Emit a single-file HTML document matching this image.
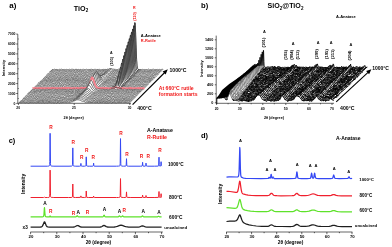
<!DOCTYPE html>
<html><head><meta charset="utf-8"><title>XRD figure</title>
<style>html,body{margin:0;padding:0;background:#fff;width:392px;height:247px;overflow:hidden}svg{display:block;will-change:transform}</style>
</head><body>
<svg xmlns="http://www.w3.org/2000/svg" width="392" height="247" viewBox="0 0 392 247">
<style>text{font-family:"Liberation Sans",sans-serif}.p{stroke:#f47e8a;stroke-width:19}</style>
<rect width="392" height="247" fill="#fff"/>
<defs><filter id="bl" x="-5%" y="-5%" width="110%" height="110%"><feGaussianBlur stdDeviation="0.3"/></filter><linearGradient id="wg" x1="0" y1="0" x2="0" y2="1"><stop offset="0" stop-color="#808080"/><stop offset=".7" stop-color="#9c9c9c"/><stop offset=".93" stop-color="#fff"/></linearGradient></defs>
<g filter="url(#bl)"><g transform="scale(.1)" fill="#fff" stroke="#222" stroke-width="6.20"><path d="M520 698l0-2 11 0 7 0 4-1 5-3 2 0 4 3 7 1 9-2 7 2 4 0 7 2 6-4 9-1 7 4 4-4 3-1 9 3 11 0 6 2 5-3 2 0 5 2 6 0 5-2 11 2 11 0 7-3 4 1 7 2 9-3 6 2 5-2 2 0 4 1 7 1 5 3 6-4 20 0 7 2 7-2 11 3 15-3 7 4 5 0 4-4 2 0 5 1 4-3 2 0 5 5 4-1 7 0 11-3 4 0 7 3 5-2 2 0 4 3 7-2 9-1 7 2 4-2 2-1 5 2 15 1 7-2 11 0 5-1 2 0 4 3 16-2 6 1 7-1 5 0 4 3 2 0 5-1 4 1 7-2 7 0 4-1 11 1 7-2 11 3 9-2 6-3 5 2 4 0 14-6 11-2 15 6 7 0 7 3 15-1 5 5 2 0 5-2 6 0 9-2 7-3 22 4 5-1 2 1 4 3 5-4 2 0 4 1 5-1 6 2 5 1 18-3 6 1 9-1 7 3 4-2 7 2 11-3 5 1 2-1 7-13 2-9 4-41 5-83 9-250 2-46 2-25 2 0 3 26 13 344 4 57 3 17 4 18 4 5 12 3 11-2 11 1 7-2 4 0 7 2 6-1 5 1 4-2 2 0 5 2 11-1 11 2 5-4 2-1 4 1 5 4 2 0 4-2 5 1 7-1 4 1 2 0 5-2 4 0 7-2 7 2 4 2 7-2 4 2 7-1 9 2 2 0 4-3 5 3 2 0 4-2 7-1 11 3 11-3 9-1 3 1 4 4"/><path d="M1295 696l4 1 11-3 5 1 2-1 7-13 4-25 4-61 3-47 9-250 2-46 2-25 2 0 3 26 11 297 2 47 4 57 5 28 2 7 2 3 5 3 9 2 11-2" fill="url(#wg)"/><path d="M509 709l0-2 11-3 5 0 6 3 5-1 6-3 5 4 2 0 5-3 11 2 6-2 16 4 7-2 8-2 3 1 4 5 5-5 2-1 4 1 7-1 9 2 11-1 7 2 11-1 11 2 7 0 4-3 18 2 4-2 11 4 5-4 2 0 5 3 4-4 2-1 16 6 11-5 7 0 11 4 4-1 11-2 7 1 5 0 6 2 9-3 2 0 5 3 11-5 11 5 4-3 3 0 4 4 7-3 4 1 7-3 11 1 5-2 15 4 2-1 5-4 4 4 2 0 5-1 16 3 17-3 11 3 23-3 4 1 7-1 4 1 7-3 7 3 15-2 7 3 9-1 6 2 7-6 9-2 7-7 4 0 7-2 9 4 6 6 3 1 4-2 11 7 16-3 11 2 7-1 6 2 9-2 7 3 4-2 3 0 4 3 7-2 4 1 11-3 5 1 6-1 12 1 6-1 5 1 11-2 4 2 3 0 4-2 4 3 3 0 4-1 7 2 13-6 2-2 3-7 2-10 4-37 5-78 11-286 2-24 2 0 3 24 2 44 6 187 5 98 4 58 3 16 4 15 4 4 14 4 4 0 11 0 12-4 6 3 16 2 6-3 16 1 7-1 4 2 5-2 6 1 5-2 6 2 7-2 11 1 5-2 11 3 4-2 7 2 16-1 6-2 5 4 2 0 9-3 6 1 12-2 4 3 2 0 9-2 11 3 7-1"/><path d="M1284 707l4-1 7 2 13-6 2-2 5-17 2-15 4-54 3-46 11-286 2-24 2 0 3 24 2 44 9 241 4 78 2 24 5 25 2 6 2 3 14 5 11 0" fill="url(#wg)"/><path d="M498 720l0-4 11-1 11 4 7-4 9 3 7-2 4 0 13 4 5-2 11 0 7-1 4 2 11-5 5 4 2 0 4-2 7 2 4-2 7 1 5-2 4 2 2 1 5-2 6 2 16-3 7 4 4 0 5-3 2-1 4 1 5-1 2 0 4 4 16-4 7 2 4 1 7-2 11 2 4-2 3 1 4 3 7-2 4-3 7 3 15-3 12 3 6-1 5-1 11 2 4-2 11-2 3 1 4 4 11-1 5-1 6 1 5-2 2 1 4 4 5-4 2-1 5 2 11-2 11 3 6-4 9 2 7 0 7 2 4 0 11-3 23 3 4-3 2-1 9 3 7-3 15 3 7-3 7 1 4-2 11 3 11 0 12-5 11-5 4-1 7-2 11 3 7 5 9 3 11 2 6-3 12 5 11-3 11 1 6-3 9 3 7-2 5 3 2 1 4-2 7 1 9-3 2 0 4 3 5-3 2 0 5 4 4-3 2 0 5 3 11-3 7 1 15 0 11 1 7-2 4-5 3-5 2-8 4-39 5-77 11-267 2-24 2 0 3 23 2 42 11 271 4 56 3 15 4 13 2 3 5 3 4 0 7-2 9 4 6 0 7-3 16 3 6-2 16 1 7-2 11 0 9 3 6-3 7-1 27 2 6-1 5 1 4-2 3-1 8 3 7 0 7 2 9-1 6-5 5 4 2 1 4-2 12 1 4-1 2 1 5 3 6-5 5-1 4 2 7 1"/><path d="M1273 717l4 0 11 1 5-1 4-3 5-8 4-23 4-57 3-44 11-267 2-24 2 0 3 23 2 42 9 228 2 43 4 56 5 24 4 7 5 3 4 0 7-2 9 4" fill="url(#wg)"/><path d="M487 731l7-3 9 1 6-2 7 1 4-1 7 0 5-1 4 2 7 3 4-4 2 0 5 4 6-4 12 3 8-3 7 3 7-2 9 1 6 0 7-3 11 2 20 0 7 3 4-3 3-1 9 4 2 0 4-4 7 2 4-1 11 1 7-1 16 1 4 0 7 1 11-4 11 1 5 3 2-1 4-2 7-1 4-1 5 5 2 1 5-3 6 0 5-2 6 3 5 0 4-3 2-1 5 2 4 3 3 0 8-4 3 1 4 2 7-2 11 3 11-4 5 0 4 2 2 0 5-2 4 3 11-1 7 2 7-2 11 3 4-2 22 0 5 2 2 0 5-4 6 1 20 0 11 2 12-3 6 0 5-1 2 0 4 3 5-1 6-1 12-7 4 1 2-1 5-4 6-2 7 0 5 1 4 4 4-1 3 1 4 3 11 4 5 4 2 0 4-4 7 2 5 3 6-4 9-1 7 3 6-2 16 1 7-1 9 0 11 3 2-1 4-3 7 1 5 2 11-2 4 3 2 0 9-5 3 0 4 3 4 1 3-1 4-3 7 3 11-1 2-1 5-8 2-7 4-36 5-72 11-260 2-21 2 0 3 21 2 39 6 172 5 89 2 30 5 34 2 10 2 7 2 3 5 3 15-2 7-2 9 0 22 4 2-1 5-3 6 1 9 2 7-2 11 1 5 1 6-1 7 1 4-2 16 1 7-2 4 1 7-1 15 1 12 3 6-1 7-2 4 0 11 1 5-2 13 5 5-1 11-3 11 1"/><path d="M1262 728l4-3 7 3 9 0 4-2 5-8 2-7 2-14 4-53 3-41 11-260 2-21 2 0 3 21 2 39 9 221 2 40 4 50 5 24 2 7 2 3 5 3 15-2 5-1" fill="url(#wg)"/><path d="M476 742l0-4 11 0 11 3 7-3 4 1 7 0 5 2 6-2 5-3 4 3 2 1 11-2 5 1 7 1 4 2 4-3 3-1 4 2 7-2 4 1 5 1 6-2 12 2 6-3 9 2 7-1 18 1 15-1 11 2 11-2 7 2 11-2 20 2 7-2 11 4 11-3 16 2 7-2 6 1 11-1 5 1 4-1 7 1 11-1 4-2 7 0 11 3 11-2 5 0 7 3 4-1 7 0 6-2 5 0 4 1 2 0 5-3 4 3 3 0 4-4 7 4 4 0 5-2 2 0 4 3 5 0 6-3 7 2 5-1 4 2 2 0 5-4 11 2 7 0 15 3 11-4 16 0 6 1 5 0 18-13 15-2 3 1 11 9 15 6 7-1 11-3 5 1 4 3 2 0 5-2 6 2 5-1 6 2 5-1 4 2 3-1 4-4 5 3 2 1 4-2 5 1 6 0 7 1 11-2 5 0 4 3 2 0 5-3 4 2 11-2 7 2 11-1 20-3 2-2 5-16 4-32 5-67 11-245 2-21 2 0 3 21 2 39 11 246 2 28 5 33 2 7 4 8 2 2 5 2 7 0 6-1 7 1 9 0 7-2 6 1 5 3 17-3 5 0 4 1 3 0 4-3 5 3 2 0 4-2 11 0 5 1 6 0 5 3 7 1 11-4 6 0 5 1 4-1 7 0 4-1 3 1 4 3 7-1 9 1 6-4 7 3 9 0 7-2 4 1 7-1 4 0 11 4 7-2"/><path d="M1251 740l17-3 7-1 2-2 5-16 2-13 4-46 3-40 11-245 2-21 2 0 3 21 2 39 9 207 2 39 4 48 5 20 6 10 7 2 11-1 5 1" fill="url(#wg)"/><path d="M465 753l0-4 4 1 7 0 5 1 2 0 4-3 7 3 4-1 5 1 7-4 4 1 7 4 11-2 15 2 7-2 4 1 3 0 9-4 2 0 4 4 7-3 9 3 11 0 18-2 11 3 11-4 18 5 9-3 6 2 5-3 2 0 5 2 6 0 9-1 7-1 11 4 7-3 9-2 2 1 4 3 7-4 16 3 11 1 4-3 7 1 11-3 7 3 4 0 4-2 3 0 4 4 7-1 15-1 5 1 7-3 6 4 5-1 6 2 5-1 6-3 9 1 7-1 5 0 6 2 11-1 5-2 2 0 4 3 16-3 7 1 4 0 7 3 4-1 7 2 11-7 7 3 15 0 7 1 20-8 9-7 4-1 7 0 16 5 15 9 11 4 5-1 7-4 15 3 22-1 7 2 7-1 4 1 5-2 2 0 4 3 5-3 2 0 9 2 22-1 11 2 3 0 4-3 7 1 4-2 11 5 5-4 6-3 3-5 4-22 2-21 5-64 9-190 2-37 2-20 2 0 3 20 11 229 4 65 5 33 2 7 2 4 4 3 7 1 5 2 17 1 5-2 7 0 6-1 16 3 4-3 2-1 5 2 11 2 5 0 6-3 7 2 4-2 5 0 11 3 11-4 7 3 4 1 7-3 11 2 4-2 3 0 4 2 7-1 9 1 6-1 11 3 12-5 4 1 7-2 4 1 7 0 11 3"/><path d="M1240 750l4-2 11 5 5-4 6-3 5-14 2-13 2-21 5-64 9-190 2-37 2-20 2 0 3 20 11 229 4 65 2 20 3 13 2 7 4 6 16 4 9 1" fill="url(#wg)"/><path d="M454 764l0-1 4 1 3 0 4-3 7 1 15-2 7 3 9-2 7 0 4-1 2 0 9 4 2-1 5-4 7 4 8-2 7 2 5-4 2-1 4 3 5-1 6 2 5-3 2-1 9 4 2 0 5-3 4 4 2 0 11-2 9 1 3 0 4-3 5 0 6 4 5-2 11 1 6-2 7 1 11 0 5 2 4-3 2 0 5 2 4-2 3 0 4 2 4 0 7-3 11 3 7 0 11-3 16 4 15-2 7 1 4-2 3 0 4 3 11-3 11 2 5-2 2 0 4 3 5-3 7-2 4 0 7 3 4-2 2 0 5 2 4-1 7 1 11-1 5 3 2 0 9-4 2 1 4 5 5-4 6-1 12 1 6-2 11 5 16-3 11 0 5-2 2 1 4 5 5-5 2-1 15-1 5-1 18-10 4-5 2-1 12 2 8 8 7 2 11 7 7 0 4 2 5-3 2 0 5 1 4-2 2 1 5 3 6-2 5 2 22-2 7 1 4-2 7 1 4 2 7 0 4 0 5-3 2 0 5 3 6-2 5 0 6 2 12-1 11 2 11-2 4 0 5-2 6 0 5-14 2-12 4-43 12-219 2-34 2-18 2 0 3 17 2 33 11 221 4 44 3 12 4 12 4 2 12-1 11 3 29 0 4 0 11 0 7 1 7-2 9-1 13 3 20-1 7 2 4-3 2 0 5 2 11-1 11-4 7 4 20-1 6-3 5 4 2 1 4-2 7 1 5-1 6 1 5-2 4 2 2 0 5-4 11 6"/><path d="M1229 763l11-2 4 0 5-2 6 0 5-14 2-12 4-43 3-35 11-218 2-18 2 0 3 17 2 33 9 186 2 35 4 44 5 20 2 4 2 1 5 1 9-1 11 3" fill="url(#wg)"/><path d="M443 775l0-1 11-3 7 2 9 0 6-3 5 5 2 0 5-5 11 2 6 0 5 2 11-6 4 4 3 1 4-3 7 2 15 1 11 1 5-3 2-1 5 2 15 0 7 3 15-4 7 3 5-1 6 1 7-3 15 2 7-1 9 1 7-1 4 1 7-2 11 2 7-2 22 4 16-5 6 3 27-3 4 1 7 2 4-1 3 0 4 4 7-4 9-1 6 2 12-3 6 3 11-1 16-1 4 2 3 0 4-2 7-1 15 2 7 0 11 2 9-2 11 1 36-3 4 1 7 0 9 3 2-1 9-7 7-3 11-9 4-6 2-2 3 0 6 1 5 2 9 8 4 2 7 7 4 1 11 5 7-1 9 2 7-2 4 2 2-1 5-3 6 4 9-1 7 1 7-1 15 4 5-2 6-4 16 3 11-1 7 2 11-1 4-2 3 0 4 3 5-3 2 0 4 2 5-4 6-1 5-11 2-12 2-17 5-57 11-201 2-16 2 0 3 16 2 30 11 205 4 41 3 12 4 12 16 2 6 2 5-3 2-1 9 2 7-2 4 3 2 0 5-2 4 2 2 0 5-3 4 2 2 0 5-2 7 3 9-2 6 3 7-2 4 1 5-2 2 0 4 2 12 0 4-2 2 0 5 3 6-2 16 1 11-1 5 2 2 0 4-2 7 2 9-5 2 1 4 4 18-3 11 4 5 0 7-3 4 0"/><path d="M1218 771l4 3 5-3 2 0 4 2 5-4 6-1 5-11 2-12 2-17 5-57 11-201 2-16 2 0 3 16 2 30 11 205 4 41 3 12 4 12 16 2 6 2 5-3" fill="url(#wg)"/><path d="M432 786l0-1 11-3 7 3 4-1 11-4 5 4 2 0 5-2 4 2 11-1 7 2 4-3 7-1 4 2 7 0 4 2 3-1 4-3 11 4 5-2 2 0 4 2 5 0 7 1 4-4 7-2 6 4 16 0 11-3 5 3 2 0 4-1 5 2 2 0 4-4 11 3 5-2 2-1 5 2 6-2 9 0 7 3 11-1 7 0 4-2 5 3 2 0 4-2 5-1 6 5 23-3 17 1 16-2 7 2 15-1 5 2 2 0 4-3 16 2 11 0 7 1 4-3 7-4 4 6 3 1 4 0 7-3 4 0 7 4 4 0 5-3 2 0 4 3 5-4 2-1 5 3 6-1 20 0 7-2 7 2 20 0 6-2 7-4 9-2 22-21 2-1 7-1 5 2 11 14 4 5 5 0 6 5 16 4 11-1 7 2 11-2 4 2 7 0 4 1 7-2 7 1 4-2 5 3 2-1 4-2 7 3 9 0 7-2 4 2 2 0 5-4 11 2 4 3 3 0 4-2 11 3 11-6 5 3 2 0 4-5 5-11 4-24 2-21 12-190 2-30 2-16 2 1 3 17 13 217 4 37 3 11 4 13 2 1 7 1 7 0 6-2 5 2 2-1 4-4 5 4 2 1 5-2 6 0 5 0 11 2 11-2 7 1 9-1 6 3 5 0 6-4 11 5 5-5 2 0 5 3 4 1 7-3 6 3 5 0 4-3 3 0 4 2 4-4 3 0 4 3 5-3 2 0 4 3 11 1 11 0 12-2 4 3 7 0 4 1 2-1 5-4 4 2 7 0"/><path d="M1207 785l4 1 11-6 5 3 2 0 4-5 3-4 4-16 4-36 3-30 9-160 2-30 2-16 2 1 3 17 11 187 2 30 4 37 3 11 4 13 2 1 7 1 7 0 6-2 5 2" fill="url(#wg)"/><path d="M421 797l0-2 4 2 3 0 4-3 5-1 6 2 7-3 4 2 5-1 7 4 11-5 4-1 11 3 11 1 7-2 7 2 4-1 7 3 4-1 5-3 2-1 4 2 7 1 5 2 11-6 6 6 5 1 6-3 23 1 4 0 7-2 4 0 5-1 6 3 5-2 7 1 11-2 15 3 11-3 7 2 7 0 4 2 5-1 11-3 11 3 7-1 6 1 9-4 2 0 5 2 4 0 7-1 7 2 15-1 5 2 2 0 4-3 5 0 7 5 4 0 7-2 4-3 2-1 5 2 15-1 7 2 18-2 15 2 5-2 7 0 4 0 2 0 5 5 4-5 2 0 5 4 4-3 3 0 4 1 4-1 7 0 16-2 11 2 2-1 9-8 7-5 6-10 16-16 4 1 3 2 4 7 11 13 7 10 4 3 7-1 11 5 5 0 6-1 5 3 11-2 4 3 2-1 5-3 11-1 7 4 9-1 6 1 5-4 2 0 4 4 23-4 4 3 2 0 5-2 11 3 4-2 7 2 5-3 2-1 4 3 9-4 5-5 2-4 2-9 2-15 5-48 11-173 2-16 2 0 3 15 2 27 11 175 4 33 3 10 4 12 7-1 4 3 7 0 4 1 7-4 4 1 7 0 9 1 7-2 6 1 16 0 11 2 5 1 2 0 4-5 5 4 6 2 5-1 6-5 7 2 5 2 6-1 5 0 4 3 2 0 5-2 11-2 4 2 7 3 5-1 6-3 18 0 9 2 7-2 15-1 11 4 7 0"/><path d="M1196 794l4 2 5-3 2-1 4 3 9-4 5-5 2-4 2-9 4-35 3-28 11-173 2-16 2 0 3 15 2 27 9 147 2 28 4 33 3 10 4 12 7-1 4 3 7 0 4 1 5-3" fill="url(#wg)"/><path d="M410 808l0-3 4 2 3 1 4-2 5 2 2 0 4-3 7 2 4-1 7-3 27 3 6-1 5-2 7 4 15-3 5 0 6 3 7-1 9 1 7-2 6 1 5-2 11 2 6-1 16 1 7-2 11 4 15-6 5 4 2 1 9-1 7 1 6-2 9 0 7-3 4 3 3 0 9-1 6 2 5 0 6-3 16 4 7-3 6 0 5-2 26 4 23-2 11 2 11-3 7 3 4-1 7-1 22 1 5-2 6 0 7 4 4 2 5-4 2 0 16 2 6-3 11 1 12-4 11 2 4 2 5-2 6 1 7-2 9-1 11-6 22-31 2-2 5 1 4-2 5 4 9 16 4 3 9 14 2 2 5 2 6-1 5 2 7-1 4 4 2 0 9-3 7 3 6-2 5 1 11-1 5-2 2 1 4 4 7-3 4-1 5 3 2 0 11-4 5 2 4 4 2 1 5-4 4 2 2 0 5-2 7 1 8 0 7-1 11 1 5-1 6-4 3-2 2-5 4-23 5-43 11-157 2-13 2-1 3 13 2 23 6 105 5 56 4 33 3 8 2 3 6 5 7 4 7-1 4 1 5-3 2-1 4 2 5 3 2 0 5-3 4-1 7 1 22 0 4 1 7-1 22 2 11-3 5 4 2 0 11-5 5 1 4 2 2 0 5-3 7 4 4-1 4-3 3 0 4 3 7 0 4 2 11-1 5-1 6 2 5-3 2-1 5 2 11 0 11-3 4 2 3 0 4-2"/><path d="M1185 806l4-1 11 1 9-3 5-4 2-5 2-9 7-57 11-157 2-13 2-1 3 13 2 23 9 136 2 25 4 33 3 8 2 3 11 8 2 1 7-1 4 1 5-3" fill="url(#wg)"/><path d="M399 819l0-2 11-1 7 1 4-2 7 1 4 0 5-3 2 0 5 4 4-2 7 3 6-3 11 1 12-2 4 0 7 2 4 0 5-1 2 0 4 4 23-5 4 0 7 2 4 0 7 2 11-2 7 1 9-1 6 2 5-1 6 2 5-4 2 0 4 3 5 1 7-4 6 1 5-1 4 1 2 0 5-3 7 2 15 2 11-4 7 4 4 1 5-2 7-1 6 3 11-1 5-2 4 0 11 3 7-3 4 3 3 0 4-3 7 1 4-3 11 4 18 0 9-2 7 3 11-4 11 3 11 0 5 1 6-4 16 4 7-2 4 0 7-3 6 3 9-2 7 0 4 1 7 3 5-5 2-1 9 2 11-3 9-7 4-7 20-46 2-3 5-2 4 3 3 3 17 38 5 8 9 10 6 5 5-1 2 0 5 3 4-1 13 1 9 1 7 2 4-4 3-1 9 5 17-1 5 2 2 0 4-4 5-1 7 2 6-1 5 0 4 2 2 0 5-3 4 4 3 0 11-2 4-2 7 2 11 0 4-3 5-7 4-21 5-40 9-118 2-22 2-11 2 0 3 12 13 163 4 29 3 7 2 4 6 4 7 2 11 2 5-2 2 0 4 2 5-2 2 0 5 2 11-1 15 0 7 2 4 0 14-4 4 2 7 2 15-3 5 2 7-2 15 3 7-1 7 0 4-1 4 2 3 0 4-3 11 0 5-1 6 1 5 3 2 0 4-2 5 0 11 2 7-2 22 1"/><path d="M1174 816l4-2 7 2 11 0 7-6 4-12 4-30 12-141 2-22 2-11 2 0 3 12 11 140 2 23 4 29 3 7 2 4 4 3 9 3 11 2 5-2" fill="url(#wg)"/><path d="M388 830l0-5 4 5 3 1 4-4 7 1 11-2 9 1 7-2 4 4 2 0 5 0 4-3 2-1 5 2 4 3 2 0 5-3 4 2 3-1 4-3 4 1 7 2 5-2 2 0 4 3 5-3 6 0 12 3 4-1 2 0 5 3 4-2 7 1 4-4 2 0 9 5 3-1 4-4 11 2 5-3 2 0 15 3 5 3 2 0 5-4 4-1 11 3 7-2 4 2 3 0 4-2 11-2 7 2 4 0 11-2 12 4 11 0 15-2 18 1 22-3 7 3 4 0 5-3 2 0 5 2 11 1 6-2 9 2 7-1 7 0 4-1 7 1 15-1 5 1 6-2 5 3 2 0 5-1 6 0 5-2 6 1 5-1 15 2 12-2 11-2 11-5 4-4 5-6 6-15 14-44 6-14 5-6 2 1 2 3 3 5 4 16 11 31 9 21 2 5 11 10 12 3 4-2 2 1 5 2 6-1 11 3 9-2 7 2 7-1 4 2 5 0 6-2 16 3 7-2 4 0 7 1 6-1 5 2 7-3 8 1 7 1 20-3 2-1 3-2 2-4 4-17 2-14 12-127 2-18 2-10 2 0 3 10 2 19 9 105 4 36 5 17 2 2 2 1 4 6 3 1 4-2 5 1 6-2 7 2 11-2 11 2 5-2 11 0 6 2 5-1 11 2 16-4 6 3 11-2 7 1 9 0 11 2 7-3 15 3 12-3 2 0 4 3 5 0 6-3 7-1 4 0 7 3 5-2 4 2 7-1 6 1 9-2 7 1"/><path d="M1163 827l4 1 11-1 11-3 5-6 2-7 4-24 12-127 2-18 2-10 2 0 3 10 11 124 4 36 2 11 3 6 2 2 2 1 4 6 3 1 4-2 5 1 6-2 5 1" fill="url(#wg)"/><path d="M377 841l0-2 4-1 7 1 16-3 2 1 4 3 16-4 7 2 6 0 5 3 6-2 5-3 4 2 3 0 4-3 4 4 3 0 4 0 5 1 2 0 4-3 7 0 4-2 5 3 11 2 11-3 13 0 9 1 12 0 6 2 5-3 2-1 9 3 6-1 16-2 2 2 5 5 4-4 7-3 7 4 4 1 7-3 9 0 6 2 16-3 7-2 15 6 2 0 5-4 4 1 11 1 7-2 4 3 3 0 4-2 11 0 5-2 6 2 12-1 4 3 2 0 16-3 4 2 2 0 5-2 4 0 7 3 5 0 6 0 7-3 11-1 4 0 7 2 5-2 15 0 7 3 7-3 4 2 4 0 20-4 9-3 9-10 7-13 20-73 4-12 5-8 2 1 2 3 3 6 15 61 11 30 16 18 2 1 9 1 7-1 6 0 5-2 6 4 16 0 5-3 2 0 4 3 7-2 4 1 7 2 4-1 7 1 9 0 11 0 7-2 7 2 8-2 7 1 18-1 9-5 2-6 7-41 11-102 2-9 2-1 3 10 2 17 11 106 4 21 3 5 4 5 11 3 16-1 11 1 7-2 4 3 2 0 9-2 18 1 11-3 7 3 11-1 4 1 5 2 2 0 4-3 12 1 6-1 9 1 7 3 4-1 7-3 11 0 18 2 9-1 6 1 5-2 2 0 5 2 4 1 7-2 4 2 2-1 5-4 4 3 3 1 4-2"/><path d="M1152 836l4 1 18-1 9-5 2-6 7-41 11-102 2-9 2-1 3 10 2 17 11 106 4 21 5 8 4 3 9 2 16-1" fill="url(#wg)"/><path d="M366 852l0-1 4-3 3 0 4 2 11 2 11-4 12 4 4-5 2-1 5 1 11 3 11 2 4-3 7-1 7 3 4-2 11 1 11-4 5 4 2 0 5-2 4 0 7 2 4 0 7 1 4-2 2-1 5 2 11-1 11 2 11-4 7 2 4 0 7 3 5 0 4-4 2-1 9 4 11-2 7 3 11-3 5 1 6-2 5 0 13 2 11 0 9-1 7 1 11-5 4 4 3 1 11-2 15 2 7-2 9 0 7 2 6-2 11 1 9-3 2 1 5 5 4-3 3 0 4 2 5 0 13-3 11 2 4 1 12-3 11 2 4-4 2 0 5 3 27-3 6-2 7 0 4-2 5-8 6-8 9-26 16-58 7-15 4-1 2 2 5 12 13 56 7 22 9 17 11 8 2 1 5-2 6 5 5 0 6-1 9 2 11-3 3 1 4 4 7-1 9 2 6-3 16 0 7 4 6-3 11 2 5 0 7-3 4 1 4-2 3 0 9 4 2 0 4-3 11-1 3-1 2-2 2-5 7-33 9-72 2-13 2-6 2 0 3 7 8 69 7 38 5 13 2 3 4 5 5 1 9-2 6 3 16-3 11 0 11 4 2-1 5-3 6 1 16-1 5 1 2 0 4-3 7 2 15-1 7 1 5 3 4-1 7-4 6 2 9 0 7 1 4 0 7 0 7-2 4 1 7-2 4 2 7-2 9 4 2-1 5-3 4 1 7 0 11 2 7 0 4 1"/><path d="M1141 847l9 4 2 0 4-3 11-1 3-1 2-2 2-5 7-33 9-72 2-13 2-6 2 0 3 7 11 85 6 29 5 9 2 3 4 3 12-2 6 3 5-1" fill="url(#wg)"/><path d="M355 864l0-3 4-2 7 1 7-2 4 1 7 0 4 2 5-1 11 1 7 2 6-2 9 0 7-2 4 1 7-1 16 0 6 2 7-1 9 1 11-3 2 0 5 4 4-3 2-1 9 3 7-1 11 0 11 2 11-3 16 0 7 3 15-3 7 1 11 0 4-2 3 1 4 5 11-7 11 6 5-2 2 0 5 1 17-4 5 2 11-1 11 2 11-1 11 1 7 0 4 1 12-2 11 0 6-2 16 4 7-1 4-2 7 2 4-2 7 2 4-2 7 0 4-1 7 2 5 0 11-1 4-2 2 0 5 2 4 0 23-3 6 2 7-8 7-2 4-3 4-6 16-46 9-35 4-11 5-6 2 0 2 3 3 5 4 14 7 29 15 46 7 8 11 9 9 2 7-1 4 4 2 0 5-4 4 3 2 0 5-2 7 4 9-1 6-2 5 3 2 0 4-2 5 1 6-2 5 2 7-1 4 1 7-3 6 3 5 0 4-2 3 0 4 2 7-1 4 2 5-1 2 1 4 2 5-2 9-2 4-5 4-14 12-68 2-9 2-4 2-1 3 4 2 8 6 46 5 23 2 7 5 9 4 6 2 1 5 0 11-3 4 0 5 3 2 0 4-3 7 1 16 0 6 2 16-1 4-1 7 2 5-3 2 0 4 2 5 0 6-2 27 4 7-4 11-1 7 2 15-1 7 2 4-1 5-2 2 0 4 5 11-1 7-3 5 0 6 2 5-2 15 2 7-1"/><path d="M1130 859l4 2 5-1 2 1 4 2 5-2 9-2 4-5 4-14 12-68 2-9 2-4 2-1 3 4 2 8 9 59 2 10 4 13 5 6 4 4 5 0 11-3 4 0 5 3" fill="url(#wg)"/><path d="M344 875l0-3 4-1 7 1 18-2 20 2 13-1 20 3 11-4 7 1 7 2 9-2 6 2 7-2 16 2 6-3 16 3 7-3 9 2 6-3 7 3 4 1 5-3 2 0 4 2 7-1 16 2 11-4 4 3 3 0 4-3 11 4 5-2 6 0 11 3 5-2 2-1 5 2 4-2 2 0 5 3 6-2 9 1 11-2 11 2 7-2 5 2 2 0 4-3 7 0 4-1 12 2 11 0 4 2 2-1 5-3 15 3 7-3 11 4 11-5 7 3 4-1 12 1 11-5 6 4 12-1 4 1 11-3 5 2 4 0 7-3 11-8 11-17 20-68 4-10 3-2 2 0 2 0 2 3 3 4 17 60 5 12 9 16 2 3 4 1 5 5 2 1 5 0 11 4 4-1 7 1 11 0 4-2 3 0 4 3 7-3 15 6 5-3 2-1 4 4 7-4 5-1 11 2 11 0 11 1 4 0 7-3 5 3 6-1 7 2 7-2 4-3 2-5 5-12 9-35 2-6 2-3 2 0 3 3 2 6 6 27 7 19 5 6 4 2 4 4 3 1 9-4 6 1 5-3 2 0 4 3 5 0 7-3 4 1 7-1 11 3 6-1 5 2 16-1 6-2 5 2 6-1 5 1 6-2 5 4 2 1 5-3 6 0 5 1 4-2 7 0 7-1 11 1 9 2 17-2 5 1 2-1 4-4 5 5 2 1 5-3 6 2 11-2 9 3 7-2"/><path d="M1119 871l4-2 5 3 6-1 7 2 7-2 4-3 7-17 9-35 2-6 2-3 2 0 3 3 2 6 9 35 6 15 3 2 4 2 4 4 3 1 9-4 6 1 5-3" fill="url(#wg)"/><path d="M333 886l0-4 11 0 5 1 6-2 11 2 7 0 5-1 6 2 5 0 4-4 2 0 9 1 7 0 4 0 7 4 4-3 7-1 5 1 6 3 5-3 6-1 7 2 9-1 7 1 6-2 5 1 6 0 12 2 4 0 5-5 2 0 4 3 5-1 11-1 11 3 7-1 4 3 2 0 9-4 2 1 5 4 7-4 8-1 7 3 5-1 6 2 16-5 2 0 5 4 4-3 2 0 9 2 2-1 5-3 4 6 2 0 5-3 7-1 4-2 11 0 7 3 11-1 27 3 4-4 2 0 9 5 2-1 5-2 11 0 5-2 2 0 4 2 11 1 5-1 6 0 7-2 5-3 6 4 5 1 4-3 2 0 5 1 22-1 22-5 11-13 16-42 11-38 2-4 3-2 2 0 2 2 7 14 18 55 11 20 6 9 5 0 7 3 15 4 7 0 6-1 9 4 3-1 4-4 7 3 9-2 2 1 4 3 5-4 2-1 4 3 5-2 7 2 6-1 9 0 7 3 7-1 8-3 3 0 4 2 5-1 6 0 11-1 5 2 2 0 16-10 4-1 7 2 11 8 7-4 8 4 7-1 11 5 16-5 11 3 7-1 11 1 6-1 21 1 11-3 6 2 5-3 2 0 4 5 5-2 2-1 5 2 22-3 11 3 11-2 7 1 9-3 2 1 4 4 7-3 4-1 5 3 2 1 5-3 11 3 4-4 2 0 9 2 7-1" class="p"/><path d="M1108 881l4 2 5-1 6 0 11-1 5 2 2 0 16-10 4-1 7 2 11 8 7-4 8 4 7-1 11 5 5-1" fill="url(#wg)"/><path d="M322 897l0-4 11 0 7 2 15-4 12 2 4-1 7 2 4-2 2 0 5 2 11-2 4 2 7 1 4 1 7-3 11 1 5-1 6 4 7-3 11 0 9-3 7 3 6 1 16-2 5 1 2 0 4-2 5 2 2 0 4-2 11 1 5-2 2 0 5 3 15-2 7 3 4-1 7 1 11-4 7 2 9 0 6 5 7-6 20 2 7 0 4-2 7 2 4-2 3 1 4 4 4-2 7-2 5 0 6 3 11-5 7 4 11 0 11-3 5 0 4 3 2 0 5-4 7 3 4 0 5-3 2 0 11 3 4 0 11 0 12-3 4 1 7 2 4-5 2 0 5 4 15-3 7 1 7-2 4-3 7 0 4-1 11-13 7-14 20-51 2-3 3-1 2 0 4 4 7 9 18 47 15 24 12 3 4-2 2 1 5 4 6-3 16 1 7 2 20-1 13 2 9-1 7 2 11-1 11-1 4 3 3 0 4-2 11-2 5 3 2 1 9-3 13-1 4 0 5 2 2 0 5-2 11 3 4-3 2 0 5 2 4 1 11 0 7-3 5 1 6-2 11 3 5-2 2 0 5 2 15-1 7-1 4 2 7-1 11 2 18-2 20 1 7-1 4 2 7 0 4-1 7 2 4-1 18-1 5 0 6 0 5 2 6-3 5 2 6-2 5 4 2 0 9-4 2 1 5 3 6-3 5-1 7 1 4 2"/><path d="M311 908l0-5 11 3 5-4 2 0 4 1 7 1 4 2 5-3 2 0 5 4 15-4 7 3 11-2 4 3 3 0 4-3 11 1 7-1 11 0 9-1 7 2 4 0 7 0 4-1 7 1 6-1 9 0 7-2 5 2 2 0 4-2 7 1 4 0 7 1 4-1 5 0 7 2 6-1 9 1 7-2 7 3 8 1 7-2 7 0 9-1 6-2 5 2 7 0 4 1 11-2 7 0 4 3 2 0 5-3 4-1 7 1 4 3 3 0 11-2 15 2 5-3 2 1 5 2 4-3 2 0 5 1 6 0 5 2 11-3 4 3 3-1 4-4 7 5 20-3 6 1 16 0 7 3 4-4 2-1 16 1 7-1 9-1 6-3 5 2 2-1 4-5 5-3 4-5 9-16 5-6 6-15 9-17 2-2 3 0 4 1 9 8 11 24 11 21 7 7 16 9 11-2 4 4 2 0 5-2 4 5 2 0 5-4 7 3 4-1 16 2 6-1 7-2 4 0 7 3 16 1 4-4 2 0 20 4 7-4 7 2 4 2 5-3 2 1 4 2 5-2 2 0 4 2 12-2 11-1 4 2 2 0 5-3 7 1 4 1 7 0 4 2 7-1 4 1 5-1 13-2 9 0 7 2 15-1 7 3 4-3 3 0 4 3 11-2 5 0 6-3 5 2 2 0 4-2 5 1 7 2 11-2 6 2 12 0 4-1 7 1 15-2 7 1 11 0 9 2 7-3 4 2 2 0 5-2 4 2 2 0 5-3 4 3 3 1 4-3"/><path d="M300 919l0-4 4 0 7 3 5-2 6 2 5-1 6-2 29 2 16-4 4 1 7 3 11 0 11-4 5 1 6 5 12-1 6-3 9 0 7-2 6 4 5 0 4-4 3 0 15 6 5-1 6 1 7-4 11-1 9 2 7 1 4-3 2 0 5 4 7-3 8 0 7 1 11-2 7 2 11 0 5 1 15-2 7-2 4 1 7 2 4-1 11-1 23 2 6-2 7 0 16 1 11 3 6-4 16 3 5-3 2 0 4 4 5-5 2 0 4 1 5-2 2 0 4 4 18-2 9 1 7-2 7 2 8-2 7 1 22-7 11-11 7-11 5-4 6-13 11-11 7-1 5 2 6 6 5 7 4 10 22 26 7 1 5 3 11 2 15-1 7 3 11-3 5 3 2 0 4-2 5 3 2 0 4-2 11-1 12 3 11 1 6-3 9 2 7-2 7 2 9 0 6-3 7 1 9 3 2 0 4-2 16 0 7 1 6-2 20 2 7-2 5 3 6-1 11 2 7-3 9 1 7-2 4 3 2 0 5-1 11-2 4 3 3 0 4-3 5 1 6-1 11 1 5-2 2 0 4 3 16 1 7-1 4 2 2 0 5-2 11-2 4 2 3 0 4-2 5 2 6 0 7 2 11-2 4-3 12 4 6-2 27 1"/><path d="M289 930l0-7 7 4 9-2 6 3 16-1 7 1 6-2 11 0 5-2 4 3 2 0 5-2 7 2 4-1 4 3 3 0 4-3 27 2 7 2 6-2 16 0 11-3 11 2 7-2 15 0 7 2 11-2 5 2 11-1 11 1 4-1 7 1 11-2 11 0 7 3 4 1 16-4 2 0 5 3 4-1 11 1 11-2 7 0 4-1 7 3 5-2 6-1 7 1 4 0 12 2 11-1 4-4 2 0 5 4 4-2 2-1 5 2 11-1 5 2 2 0 4-2 5 0 6 3 7-3 9 0 7-1 4 2 11-1 7 2 4-3 3 0 4 3 7-1 4-3 5 2 6-3 5 1 2-1 4-5 5-1 2-2 4-5 5-2 7-9 11-11 6-4 5-1 4 2 7 7 4 1 3 2 4 6 11 9 7 8 16 7 6-1 16 4 4-2 2 0 5 1 7-1 4 0 7 3 11-2 9-1 11 0 7 2 11-2 6 2 5-2 4 3 3 0 4-3 11 4 5-3 2-1 15 3 5-1 6-3 12 8 6-4 5 0 6-1 16 1 4-2 3 0 4 3 5-4 2-1 4 3 5 1 6-3 7 1 5 2 4-2 2 0 5 3 4-1 7-3 11 4 7-3 4-1 11 4 7-2 15-3 5 2 7 1 11-2 4 2 2 0 5-2 4 5 3 0 4-5 7 2 9-1 6 2 7-1 9-1 6 2 12 2 4-6 2 0 5 3 6 0 5 2 4-3 3 0 4 1"/><path d="M278 941l0-6 4 0 7 3 5-2 2 1 4 3 5 0 6-2 7 1 9-1 7-5 4 5 2 0 9-1 7 1 11-3 4 4 3 0 4-2 7 1 4-1 7 3 9 1 7-4 11 1 4 2 2 1 5-3 11 2 7-1 4-2 11 1 7-1 4 2 16-2 22 1 7-4 7 3 4 0 7-3 4 2 5 3 2 0 4-2 11-2 12 1 6 3 16-2 6 2 20-2 12 2 2 0 4-3 5-1 6 3 7-2 16 1 4 1 11-2 7 3 7-5 15 0 11 4 9 0 18-2 7 4 4-6 2-1 5 0 7 3 4-1 16-1 11-2 22-16 18-18 4-1 7-3 2 0 5 1 4 3 16 16 11 7 6 7 5 3 7 1 11 4 6 0 9-1 7 3 4 0 7-2 7 2 4-1 5-1 11 2 18-1 4 1 7-2 4 3 2 0 5-1 11-2 4 2 7-1 7 1 9-3 6 3 7-1 4 2 7-3 5 0 11 3 11-3 7 0 4 0 4 4 3 0 9-4 2 0 4 3 7-3 4-1 5 1 7 0 11 3 6-1 9 0 7-1 7 1 9-1 6 1 5-3 2 0 4 2 16 1 7-2 11 3 11-1 4 0 7-2 4 3 3 0 4-2 11 2 7-1 9-1 6 1 5-1 7 3 4-1 7-2 6-1 9 2 7-2"/><path d="M267 952l0-2 4 1 3-1 4-4 7 2 4-1 5 2 2 0 4-1 16 0 7-1 6 3 9 1 7-4 7 3 4 0 11-1 7 1 4-1 16 1 7-1 6 0 16-1 4 3 2 0 5-1 7-1 4-1 7 3 9-2 6 0 5-1 6 1 5-1 2 0 5 3 4 0 7-4 6 1 16 0 4 2 3 0 4-3 7 2 4-2 5 1 6 4 7-2 5-3 6 2 11-1 9 1 11-1 7-2 4 2 3 0 4-2 11 0 11 2 16 1 7 0 4 0 7-3 15 5 3 0 4-3 16 2 6 1 5-3 2-1 4 1 5-3 2 0 5 3 6-1 5-2 6 2 16 1 7-4 4 0 7-2 4 1 11-4 7-7 4 0 7-9 9-9 2-1 5 0 4-5 2-1 9 2 7 4 7 1 4 4 7 9 4 4 7 3 4 0 16 12 7 0 11-2 6 4 9 0 7 2 5-3 2 0 4 2 5-2 2 0 4 4 5-1 6-2 5 1 7-2 11 3 6-3 5 0 4 3 3 0 4-4 4 1 7 0 5 3 2 1 15-4 5 3 2 1 4-1 5 1 11-3 7 3 18-5 15 4 22-1 7-2 9 3 2-1 5-3 22 5 4-1 7-3 5 2 6 2 7-3 20-1 7 3 4-2 2 0 5 2 6-2 9 0 7-1 7 1 4-1 22 3 16-1 7-5 4 3 7 1 6 2 16-2"/><path d="M256 963l0-4 7-1 15 2 5 0 6 2 5-3 2 0 5 1 6 1 9 0 7-3 4 0 7 4 4-3 7-1 11 4 18-3 9 3 2 0 5-3 4 3 2-1 5-3 6 3 16 0 7-3 15 1 7 3 4-2 11 1 7-2 5 2 11 0 4 1 2 0 5-3 4-1 11 3 7 3 5-4 6-2 7 1 11-1 5 0 4 2 7-2 4 0 7 4 4-1 7 1 11-3 11 4 5-4 2-1 4 1 5-1 2 0 4 3 5-2 7-3 4 0 7 4 11 0 4-2 7 0 11 3 5-2 2-1 4 2 5-1 6 0 7-2 11 2 9-2 2 0 5 2 11-3 4 0 7 1 7 1 4 0 11-6 5-4 2-1 4 2 7-7 4-3 5-1 2-1 11-11 16-6 7 3 4 0 7 6 11 7 4 5 11 4 7 6 5 2 6 1 5 2 4-1 2 1 5 3 6-2 9 2 7-3 5 3 2 0 4-3 5 2 6-1 5 3 2 0 4-3 5 0 7 2 4 0 7-3 6 3 9 1 7-1 11 0 5-2 2 0 4 3 11-3 5 3 2 0 4-2 5-1 2 1 5 4 11-1 4 1 7-3 4 3 3 0 4-3 4-1 3 0 4 4 7-1 4 2 5-4 2 0 4 2 16-2 7 1 11 1 4-1 7 1 4-1 3 0 4 3 11-6 11 5 7-2 11 2 11-3 20 2 7-3 18 5 4-1 5-5 2 0 4 4 11-2 12 1 6 2 5-1 4-3 2 0 5 3 4-2 3 0 4 3"/><path d="M245 974l0-2 7-1 4-2 7 3 4-1 7-3 16 4 11-4 4 2 7-1 4 1 7 0 4 1 11-2 3 1 4 3 5-2 6-1 7 2 4-1 12-3 6 2 5 0 4 3 2-1 5-4 4 2 11 2 7-1 7 1 9-2 11 0 6 2 5-3 2 0 9 4 7-2 11 1 11-2 7 2 11-3 11 2 16 0 6-1 5 1 4 3 2 0 5-3 6 1 5-2 7 1 4-1 4-2 3 0 4 4 11 1 7 1 4-1 7-3 11 3 5 0 4-3 2 0 5 2 22-5 11 3 7-1 4-2 5 1 6 2 7-1 20 2 7-1 4 1 3-1 4-4 11 2 7-5 4-1 5 1 2-1 4-7 5-1 6-6 5 1 2-2 5-5 4-3 18-7 7 5 4 1 22 12 18 12 5 2 6 0 16 5 4-2 2 0 5 3 11-2 5 2 6-1 5 2 2 0 4-3 11 4 5-2 2 0 5 2 4-3 2 0 5 2 11-1 18 1 4-2 11 1 5 4 2-1 4-4 11 4 7-3 9-1 7 3 4-3 2 0 5 2 4-3 3 0 4 3 7-1 9 2 6-3 11-1 16 5 7-1 11 0 6-2 9 1 14 0 15-2 11 4 5-4 2 0 5 2 4-2 2 1 5 3 11-2 7 2 11-3 9-1 6 3 5 1 6-3 5-1 6 1 5 2 2 0 5-2 11 0 6 1 9-1 7 2"/><path d="M234 985l0-5 16 3 13-2 4 0 5 2 2 0 5-2 11 2 4-2 11 1 11-2 7 3 4-2 7 2 5-4 2 0 4 4 5-2 2 0 4 2 12-5 4 6 2 1 5-3 4-1 11 2 7-4 11 5 5-3 2 0 4 3 5-3 2 0 4 2 11-3 12 4 4 0 7-4 4 1 7 2 7-2 8 0 7 4 11-5 11 0 5 4 2 1 5-4 6-1 5-2 4 4 2 1 16-3 7 2 4-2 4 2 7-1 7 1 4-1 11 3 5-3 2-1 11 2 9-2 7 3 11-2 4 0 7 1 5 2 2-1 4-4 7 2 9 0 6 0 12 1 15-1 7 1 4-3 3 0 4 2 4-3 3-1 4 1 11-7 11-2 11-7 7-2 11-9 16-6 7 1 6 3 38 25 9 1 7 3 11 0 4 1 7-2 4 6 3 0 4-2 5 2 2 0 9-6 2 1 4 7 7-4 4-1 5 1 7-1 4 4 2 0 5-4 15 2 7-2 4 2 7-1 11 4 7-3 9-1 6 2 12-2 6 0 9-2 2 1 5 3 4 1 3 0 4-4 7 0 9 0 6 3 5 0 6-3 12 4 4-1 7-5 6 2 5 3 11-2 4 2 7-3 11 3 5-2 2-1 4 3 7-1 9 0 7-1 11 4 4 0 18-3 11-1 18 2 4 2 7-3 4-1 16 1 7-2 4 2 7-1 11 0"/><path d="M223 996l0-1 11-5 7 2 4 0 5-2 2 0 4 4 5 0 7-2 4 0 7 2 4 1 7-3 4 0 7 3 4-2 7 1 7-2 15 1 5-1 6-1 5 2 7-1 6 2 16-3 6 2 9 0 7 2 5-2 6 1 5-1 11 3 6-3 5-1 7 2 6-2 9 2 7-2 7 3 15-4 5 2 6-1 7 1 9-2 2 0 5 3 4-4 2 0 5 4 15-3 11 5 3-1 4-3 11 0 5-3 2 0 4 3 11-1 5 1 7-2 4 4 2 0 5-1 4 4 2-1 5-5 6 2 9-4 3 1 4 2 16 1 6 0 7-2 16 1 6-2 9 1 7-1 11 1 7-5 9 1 2-1 4-4 11-1 7-8 4-1 7-4 9-4 7 0 4-5 2-1 16 3 11 4 7 6 4 2 7 6 16 3 6 5 5 0 4-1 2 1 5 3 11-2 4 2 7-1 7 3 4-1 11 1 11-3 7 4 9-1 7 2 6-2 5 0 4 1 7-1 4 2 3 0 4-3 7 4 15-2 7-1 11 1 9-2 7 2 11-2 11 4 4-5 3-1 4 0 5 5 2 1 4-2 11-2 16 3 11-3 7 3 11-1 4 2 3 0 4-2 5 0 6-1 7 2 15-1 7 1 20-4 7 4 7 0 4 3 4-6 3 0 4 3 11-2 5 2 2 0 4-2 7 1 4 3 7-4 5-1 4 4 2 0 5-3 15 0 7-1"/><path d="M212 1007l0-2 7 2 9-4 6 0 11 1 5 2 2-1 5-4 6 2 5-1 6 3 5-1 4 2 2 0 5-3 4 0 7 4 4-2 7-2 7 4 4 0 11-2 7 1 5-2 22-2 4 0 7 4 7-1 9 0 6-1 11-1 7 3 11-2 16 0 4 1 7-2 15 2 7-1 5 3 2 0 9-3 6 2 7-3 5 1 6 1 5-1 15-1 11 2 18-2 16 2 6-1 12 1 4-1 7 0 11-1 4 1 2-1 5-3 4 3 3 0 4-1 7 1 4-1 5 4 2 0 9-3 6-1 5-2 2 0 5 2 6-1 20 0 7-2 4 1 3 0 4-4 5 2 2-1 9-7 2-1 4 1 11-8 12-2 11-7 6-1 5 1 4-2 3-1 4 1 4 4 12 6 6 1 7 6 4 1 7 5 5 2 11 0 11 5 4-1 7 2 4-1 7-1 7 1 4 2 5-3 2 0 4 3 5-1 6 2 5-1 7 3 4-4 2-1 5 0 6 4 9 1 7-4 7 2 15 0 7 1 4-1 7 1 4-1 12-1 11 2 6-1 5 0 7-2 11 2 15 1 11-2 12 0 4-2 2 0 5 4 4-1 7-4 4 5 2 1 12-2 9-1 6 1 16-1 6 4 12-3 4 1 7 0 4-2 7 2 7-2 15 0 11 3 11-3 7 2 9-2 7 2 11-4 6 3 12 0 4-2"/><path d="M201 1018l0-5 11 0 7 2 4 1 5-2 11 1 7-2 11 5 4-2 2 0 5 2 6-4 12 2 8-2 7 1 7-2 4 2 7-2 9 0 7 3 4-2 2 0 5 4 4-1 7 1 4-4 2 0 5 3 7-2 15 1 11-4 7 3 9-2 13 4 9-3 2 0 5 3 11-4 11 2 7-1 15 3 12-4 6 3 16 1 4-2 7 1 4-1 3 0 4 3 4-3 3-1 9 3 2 0 4-3 11 4 12-4 4 1 7-2 15 1 7-2 11 2 5 3 2 0 4-4 5-1 6 3 5 0 6-4 5 4 2 1 9-6 2 1 5 4 11-6 7 2 8-2 7 1 16-7 17-6 12-8 15-2 7-6 11 5 4 5 3 1 4-2 7 3 4 0 9 7 9 4 5 4 4-2 2 0 9 4 2 0 5-1 4 0 7 5 11-1 16 2 2-1 4-3 7 2 4 3 5 0 7-4 4 1 7-1 11 4 4-2 3 1 4 3 7-3 9-1 6 2 11-2 11 0 12 1 6-1 11 2 12-1 20 0 6 0 5 1 6-2 7-1 9 2 7-1 11 4 4-3 7 1 4-2 3 0 9 4 2 0 9-5 2 0 4 2 7 2 11-3 9 1 7-2 11 2 11-3 11 1 7 3 9-2 6 1 7-2 11 1 5 1 4-3 2-1 11 4 5 0 4-3 3 0 4 3"/><path d="M190 1029l0-3 7-1 15 2 11-3 7 1 5-1 6 2 9 0 7 2 6-3 9 0 7 3 4 1 18-4 11 0 7 2 9-2 7 2 4-3 2 0 5 1 6 0 5 2 7 0 15-2 18 2 4 0 5-2 2 0 5 2 11-2 4 3 2 0 9-4 3 1 4 4 7-3 9 1 6-2 11 3 7-3 16-1 11 2 4 1 2 0 5-2 4 1 14 2 9-1 6-3 5 4 2 1 4-1 12-5 4 1 7 4 4 1 7-4 11 2 7-3 15 1 11-2 7 1 9 0 7 3 6-5 9 1 7 3 11-6 4 3 3 0 9-6 2 0 4 1 7-6 9-2 11-5 7-2 4-3 2-1 5 1 11-4 11 5 4-1 7 1 11 8 7 1 9 4 7 0 4 4 2 1 5-2 6 6 16-2 13 3 14 0 6 1 27-1 7-2 11 4 11 0 4-2 7 2 11-3 5 5 2 1 11-4 16 1 6-1 9 1 2 0 5-4 4 3 7 2 16-1 6 4 11-6 5 3 2 0 9-2 11-1 2 1 5 3 4-1 18-3 5 5 2 0 4-5 5 3 2 0 4-2 5 2 2 1 9-4 7 2 11-1 11 1 7-2 8 2 3-1 4-3 5 4 2 1 4-2 7 1 9-1 11 0 7 3 4 0 7-3 6 2 9 1 7-4"/></g></g>
<g transform="scale(.1)" fill="#fff" stroke="#000" stroke-width="9.00"><path d="M2542 704l0-58 12-2 6 5 2-3 3 3 4-3 5 1 1-3 3 4 3-4 2 2 3 0 3 3 3 8 1 1 8 14 1 1 3-2 3 4 4-3 2 1 2-2 3 6 8-17 2-11 5-146 1 1 1 19 3 93 2 48 1 1 2-1 6 11 3 0 4-6 2 6 3-1 4 4 2-3 2 1 3-8 2 4 2-4 3 6 2-1 2-5 1 0 3 5 3-2 2 1 2-3 3 7 2 0 2 1 2-9 5 7 4-10 7 12 5-14 7 18 1-9 1-1 2 7 2-2 3-12 1 9 1 3 2-1 3-13 2 4 2 16 2-12 2 4 1 1 2-2 1 3 5-5 3 4 2-5 2 0 2 7 3-11 2 6 4-4 3 6 1-9 3 13 2 1 3-4 2-9 4 3 3 9 6-4 3 5 2-4 0-1 2 2 2-3 3 5 6-7 3 2 2 0 4 3 3 0 2 1 2-6 3 2 5 4 3-2 3-6 2 5 1 1 1-2 2 3 3-5 6 11 3-7 2 0 1-1 1-6 3 11 2-3 2 3 2-9 5 5 3-4 4 4 8-9 3 5 3 0 1-2 2 0 6-15 3 6 3 10 3-6 2-2 1 1 1-1 5-17 2-2 2 6 4 3 4 12 5-1 3-13 2 9 2 1 5 22 2-16 2 12 3-8 2-2 1 10 1 1 2-6 3 2 2 5 1-11 1-1 2 8 3-4 2 2 2-7 2 11 7-7 2 3 3-5 2 0 4 11 3-1 2 2 6-14 3 6 2-3 1 1 1 5 2-1 3-4 3 9 1-5 2 2 1 0 2-4 2-1 2 1 2-4 3 4 3-4 3 12 1 0 2-7 3 3 1-1 2 7 1 0 2-8 2 0 2 4 5-9 3 3 1-2 2 6 3-11 3 12 1 1 3-6 5-5 2 2 1 0 3 11 3-7 3 8 3-15 3 11 2-7 1-1 5 8 3-10 2 5 8-2 3 2 3-3 4 8 4-8 1 0 2 4 9-35 4 15 3 4 4 17 2-2 2 2 3-1 2 2 2-1 2-9 1 0 2 10 2 3 4-10 1 0 2 6 2-3 2 3 2 1 3-9 4 9 2-4 1 0 2 8 2 0 2-5 2 1 3-3 2 5 1 0 1-6 3 3 2 0 2-2 2 2 2-5 3 8 2-5 1 0 1 1 3 9 6-11 3 7 2-3 2 0 2 4 5-11 2 0 2 9 5-2 2 5 3-20 2 10 7-19 3 2 2 3 4 11 1-2 1 1 2 6 5-5 1 5 3-14 2 0 1-4 2-16 1 8 1 1 2-2 5 26 3 6 1 0 3-8 2 3 1-3 1 1 2 7 3-7 2 3 2-3 4 2 3-5 2 11 4-9 3 9 2-8 2 3 2-1 3 12 4-14 2 7 1 0 2-8 2 1 2 16 3-12 2 4 2 0 2 2 3-9 5-9 6 18 3-12 3 4 3 7 3-1 4-12 2 0 3 12 1 3 5-12 3 7 3-7 3 12 3-16 4 7 4-2 1 1 1 5 3-6 5 5 1-2 5 2 3-6 3-2 3 6 2-6 3-2 1-13 1-3 2 3 3-12 3 21 1 2 2-3 3 14 2 0 4-4 2 2 3-1 1 0 3 9 3-13 2-1 2 8 2-4 5 7 1-2 3 7 5-12 2-1 5 4 2 3 4-12 2 6 1 0 2-5 2 6 2 3 3-4 2 2 4 3 2-2 3 0 2 6 4-13 3 5 7-2 2 1 4 8 3-7 2 0 3 4 1-1 5-8 3 9 1 1 2-3 3 1 4-4 3-14 5 4 3-5 3 13 2 0 1 2 1 7 3-6 4 8 2-8 2 3 1 0 2-8"/><path d="M2530 715l0-57 4-1 6 0 3 2 6 0 5-5 3 3 9 1 2-3 5 3 2-1 4 5 7 18 3 3 4 0 2 3 2-1 5 1 3-4 6 0 2-7 2-4 2-15 5-120 1-16 0-1 7 145 5 19 5 4 2-2 3-6 4 7 3 0 1-4 1 0 2 5 2 1 3-7 1 3 3-5 3 7 2 0 2-3 4 1 3 5 6-2 3-8 2 9 2-5 2 0 3 9 2-11 2 3 5 0 2-3 5 7 8 1 5-8 2 5 3-6 2 0 2 1 4 15 3-16 3 4 1 7 5-7 3 2 1 5 2-5 1 0 2 6 4-10 5 6 4-12 2 8 1 2 2-2 2 6 3-8 2 9 4-9 1-1 2 1 2 16 2-9 2 5 3-8 1 5 3-16 5 14 9-10 7 19 2-6 2-4 2-6 2 7 1 0 2-10 4 6 2-3 1 1 2 5 2-7 4 6 3 1 2 5 4-10 3 4 2 0 4-14 3 18 3-11 1 5 2 0 3 3 4-5 2 0 3 4 2 0 4-9 3 7 4-9 3-2 2 1 2-7 2-3 3 10 2-1 5 5 2-15 4-3 3-13 6 28 1 0 2-6 1 8 1 0 4-12 1 0 2 2 1-3 1 0 5 14 2 2 2-1 2 3 3-5 4 5 2 0 2 3 3-4 2 5 2-2 2 4 3-15 2 10 2 1 2-2 3 9 2-11 1 0 1 11 3-9 2 4 3-5 3 1 3-3 2 5 1 1 1-2 7 6 4-12 3 11 3-2 1 1 2-4 3 10 3-9 3 4 3-5 5 0 1-4 3 11 2-9 1-2 2 3 2-8 4 7 3 12 4-16 6 12 3-5 3 6 6-8 3 4 2-2 7-3 4 4 2-2 5 6 4-5 2 7 3-11 2 2 2 9 5-3 3 5 1-2 2-8 1 0 2 9 3-19 1 3 2-2 3 2 4-16 2 1 3-19 4 16 3 20 2-3 2 10 3-14 1 7 1 2 2-1 2 5 1 0 2-5 4 6 3-3 6 11 3-4 3-13 3 10 2 0 3-8 2 6 2-2 2 1 3 12 4-13 5 3 2 4 2-6 5 5 4-5 3-8 4 11 2-6 3 12 2 3 4-20 5 12 2-4 1 1 1 9 3-8 4 4 2-5 2 2 1-1 2-6 2 4 1-1 6-26 2-3 2 1 7 18 3 2 2 12 4-13 1-1 2 4 2-15 4-11 3 12 4 12 2 1 3 15 4-13 3 5 3-5 3 6 6 6 5-4 3-6 2 6 0 2 2 0 3-3 2 1 2-6 2 5 3-5 5 15 1-9 2 3 3-4 2 3 2-7 2 4 3 2 2-9 1-1 1 9 2 1 3 0 3-5 3 3 3-5 2 6 1 1 1-5 2-1 6 6 1-1 2-5 3 16 3-17 2 9 2-8 2 1 5 0 1 4 3-9 3 7 2-3 2 5 2 0 2-5 3 8 2-4 4 6 3-11 4 12 5-21 2 3 2 1 3-11 4-10 7 22 2-1 2 12 3 4 2 0 4-7 5-3 2 9 1 2 1 0 5-15 4 8 5-8 6 9 3 1 2 0 2 3 5-10 2 5 1 0 1-4 3 2 2 3 2-1 3-7 2 10 4-1 3 1 2-6 2 0 3 3 2-3 2 10 5-17 3 13 1 0 2-7 3 6 2-5 1 0 3 9 2-12 1 0 2 12 4-10 7 1 2-9 3-2 2 2 2-5 2 1 3 14 5 6 1 1 5-10 3 10 3-6 3 3"/><path d="M2517 726l0-54 5-4 2 2 4-2 3 1 4-2 3 1 2-2 4 3 5-2 4 2 3-3 4 1 7 5 7 17 2 1 3 6 6 0 6-5 3 4 4-7 2 3 2-6 3-24 7-118 7 128 4 19 1 1 2-5 2 11 2 0 2 6 3 3 2-17 2 9 2-1 3-6 2 10 4-10 1 0 2 1 2-2 4 11 5-7 2 7 5-5 2-8 2 11 2 0 3-2 3 1 1-2 5 6 2-2 1 0 1 5 3-16 2 1 3 6 4-3 5 7 2 0 2-7 2 4 3-2 2 3 1-5 1 0 2 4 5-3 1 9 1 0 2-11 2-1 4 11 3-8 2 5 3 2 2-10 4 9 3 2 2-8 4 0 3 7 4-5 3 2 2-2 3 1 4-2 4-4 4 13 3-14 3 11 3-9 3 1 2-2 1 0 2 5 2-8 4 14 1-1 2-8 1 4 1-1 2-5 3 7 2-6 2 9 2-4 3-2 2-4 2 8 4-7 3 12 2-12 0-2 2 6 2-1 3-8 2 9 4-5 3-2 2 1 2 9 2-4 1 1 2 6 3-2 1-3 7 2 2-12 2 11 1 1 2-8 2 6 1-1 1-8 3 1 4-2 2-16 2 3 3 11 3 1 2-2 1 3 6-31 3 17 8 12 2-8 4 3 3-5 4 12 2-5 1 1 2 9 2 3 2-7 2 6 1 1 2-5 2 14 2-12 3 8 6-12 2 15 1 0 2-13 3 7 1 1 3-6 4 6 2-1 5 1 4-10 3 12 4-3 3 3 2-4 2-1 5 4 1-3 3 6 3-4 3-2 3-4 5 9 1-5 1-1 2 2 5-8 2 2 4 9 3-5 6 7 3-11 2 8 1 0 1-8 2 0 3 9 3-5 4 7 6-10 3 7 4-7 1 1 1 5 5 5 3-8 1 4 2 1 3-2 2 1 3-16 1 12 1 2 2-5 2 8 1 0 2-8 4 5 2-9 1 0 2 12 1 0 3 8 3-4 6-18 2-1 3-5 4-27 3 8 2-2 2 20 4 11 1 1 4-1 2 6 2-3 3 8 4 2 3-5 2 1 3-5 1 3 5 0 2 5 1 0 1 0 3-14 5 14 2 0 1-6 3 10 2 0 3-8 1 1 3-6 3 8 2 1 1-6 1-1 2 5 2-4 3 9 4-17 3 13 2-5 4-1 2 1 3-4 2 7 2 1 2-4 3-2 2 8 2-10 2 4 1-1 2-5 4 8 7-23 2-3 2-6 2-2 4 12 1 1 5 18 3 2 1-2 3-15 2-2 2 3 1-2 3-18 3 14 2 2 3 9 1 0 1 3 2 12 2-7 1-1 2 1 1-3 5 3 3 6 2-5 2 3 3-9 2 5 6 1 3 3 2-4 4 5 3-7 2 0 2-1 3 6 4-7 7 6 3 7 6-12 4 8 3-4 5 4 3-6 3 8 5-5 2 5 2-1 5-14 2 10 2 2 3-8 3 13 1 0 2-5 2 6 9-22 5 16 2 1 3-1 2 2 2-2 2-4 5 0 2 0 2 5 8-28 1-3 2 1 1-1 2-4 4 20 3 2 4 9 1 0 1-1 2 3 3-8 3 7 3-8 3 7 5-6 1 12 3-15 5 15 4-15 2 8 1 0 2-4 1 1 3 8 5-11 2 11 2-3 3 3 4-2 2 9 2-6 1 0 2 4 4-5 2-6 3 8 3-8 1 5 5 6 2-7 1-2 1 1 2-3 5 11 4-14 3 6 5-3 1 1 3-11 3 11 3-7 3-2 2 5 1-1 2-8 4 11 2-5 1 1 2 8 1-3 1 1 2 4 5-8 2 9 2 0 2-6 3 7"/><path d="M2505 737l0-58 6 0 3 2 1-2 3 3 7-3 4 3 3-5 2 3 9-2 2 3 3-3 3 0 3 1 2 7 3 3 3 10 2 4 2 1 2-2 5 4 4-2 3 3 3-2 3-5 3-3 3-11 3-38 5-75 1 1 1 17 8 100 3 13 3-7 2 3 4 1 3 4 2-4 4 3 5-7 3 16 1-4 2 3 3 1 3-8 1 6 3-3 2 2 5-10 4 10 5-2 2 6 2-1 3-7 6 0 2 4 1 0 2-2 2 3 2-5 2 8 3-9 4 4 5-6 2 3 1-1 1-7 9 15 2-1 3-6 4 0 3-5 2 4 3 1 3 5 5-3 3-4 1 0 1 2 2 6 5-8 1 8 1 1 2-5 3 5 4-9 0-1 2 3 2-7 3 13 2-8 4 9 3-7 2 0 2 2 2-5 3 6 3-4 3 4 7-8 2 1 3 13 3-3 3-9 3 13 2-8 1 0 2 5 1-8 3-3 2 5 1 0 2-6 4 7 5-11 2 10 7-4 2 6 2-1 2-5 1 0 2 4 2-5 1 0 1 3 2-5 1-1 2 1 3 10 1-7 3 4 2 0 3-9 4-6 4-11 1 0 1 5 5 5 2-2 3 9 2-8 2-1 5-16 6 17 2-1 2-4 3 5 2 1 3-5 2 6 2 0 3 2 2-2 2 15 2-2 2 4 3-8 2 8 1-1 1-8 2-1 3 15 4-18 3 10 2 1 2-7 1 0 1 8 3 0 2 3 5-10 2 8 2-6 2 1 3-4 4 10 3-4 2-1 4 6 2-5 3 8 4-6 2 4 1 0 2-7 2 8 7-12 3 9 3-7 3 8 4-9 2 0 3 5 2-1 1 0 1 4 3-5 2 0 2 4 2-13 5 15 5-6 2 7 2-1 2-6 1-1 2 3 1 0 3-5 5 12 4-6 2 0 3 1 4 6 5-10 2 0 2-1 2-8 3 16 4-6 2 9 3-12 2 3 1-3 1-12 3 14 6-4 2-4 3-16 5-12 1 2 3 15 2 1 3 17 4-3 2 4 2 0 3-5 2 3 2-1 1 1 2 5 2 1 2 4 3-13 4 7 2-2 2 1 1-1 2-4 6 10 3 7 2 0 1-2 3-13 3 7 6-9 3 17 2-8 1-2 1 1 2-5 1 0 7 14 4-9 5 4 1-12 1 0 2 13 5-13 4 15 2-8 1-2 2 0 2-5 2 8 2 2 3-7 2 0 4-18 5-7 5 14 4-1 2 5 2-5 3 13 2 2 4-20 2-2 3 1 3-11 2 20 2-3 5 4 1 7 1 1 2-3 3 5 3-5 5 12 3-8 2 12 2-17 3 10 2-1 2-6 4 1 3 6 3-6 6 7 3-5 1 5 2-8 3 12 4-9 2 7 1-1 2-13 3 14 6-7 2-4 3 7 1 0 3-8 2 5 1 1 2-3 4 6 5 2 2-2 2-4 3 1 2-3 2 2 2-1 5 10 2-10 2-6 2 7 1 1 2-4 3 8 1 0 5-8 3 1 1-3 3 5 2 1 2-1 2 3 3-2 2 3 5-21 2-1 2 2 5-14 4 17 5 4 2 8 2-1 3-6 4 10 2 2 2-1 3-8 2 13 2-10 2 4 3-4 3 4 1 6 2-4 1 1 2 5 2-7 1-1 1 3 2-6 3 11 3-9 1 5 2-2 1 1 2 4 2-13 1-1 2 7 1-1 3-10 3 17 2-6 2 3 2-3 3 0 2-3 1-1 3 3 2-4 4 9 3 3 3-11 2 5 4-5 2 6 3-9 3 2 1-4 5 12 3-8 1 0 2 4 3-13 2 1 1 0 3-7 3 4 3 10 1-2 2 0 3 5 3-3 3 6 3-7 2 6 3 2"/><path d="M2492 749l0-58 3-1 3 3 3-6 3 4 6-4 3 4 11-3 3 3 1 1 3-1 2 2 2-3 2 3 3-3 7 7 3 11 6 10 6-1 3 1 2-3 4 1 3-2 2-1 3-8 2-13 8-90 2 9 5 70 3 12 2 18 2-1 1 1 1 4 2-6 3 12 5-6 1 3 3-10 2 6 1 2 2 0 1 7 1 0 2-7 2 6 3-7 9 7 2-1 2-10 3 10 4-4 2 7 5-11 3 4 4-1 2 3 2 7 2-11 2 1 1 2 2 11 5-17 1 9 1 1 2-8 2-2 3 7 2 1 2 3 3-7 2 1 2 0 2 2 3 0 2 2 2-6 2 4 3-6 2 1 2 6 2 3 3-9 4 5 2-5 3 11 2-9 2 3 2-4 3 6 2 0 3-5 2 1 1 6 3-7 2 0 3 10 2-3 2 1 5-2 1-10 1 1 2 10 5-3 2-6 2 6 3-6 2 0 3 5 3-4 3 2 2-4 1-1 1 5 2-4 3 10 2-5 1 2 1 9 5-8 5-2 1-2 3 8 2 0 3-10 2 1 2-2 3 1 3 5 3-4 3 6 2 2 4-16 2 11 1 1 2-9 2 6 1-1 1-7 3 10 2 1 6-15 1-1 2 1 4-17 3 12 2 0 2-6 1 2 2 11 7-21 2 3 4 1 5 21 2-13 2 1 2-7 1 0 2 9 2-3 2 10 2-3 1 1 2 8 2-4 1 0 4 15 5-11 4 0 5 5 1-2 5 1 2-3 3 7 4-10 2 5 1 1 2-2 2 4 7-9 4 10 2-7 1 1 2 12 7-18 4 9 1 1 3 0 3 4 4-6 2 7 1 1 2-3 2 7 2-15 5 12 5-4 2-10 4 10 1 1 2-2 1 3 1 1 2-2 2 2 3-15 2 5 2-2 5 9 2-7 7 11 3-6 1 4 2-4 1 1 2 7 2-2 1-2 1-10 7 5 2-2 2 4 5-9 4 12 3-6 2 6 3-15 2 8 2-1 5 3 4 1 2-13 1-2 2 4 4-20 2-1 4-5 3 3 2 11 1 3 2-1 4 17 5-6 3 10 8-6 5 8 2-1 5-11 4 12 3-14 3 12 3 4 2-1 3-18 4 18 5-3 2 3 2-7 3 6 4-6 2 3 2-4 3 6 2-6 2 6 2 0 3 4 3-9 2-1 1 2 3-6 5 5 1 7 1 0 4-7 3 6 2-13 2 2 3-7 2 5 2-20 2-3 5 7 2-2 2 17 3 0 2-2 4 9 2-2 3-8 4-26 3 15 2 3 2-2 1 2 2 10 3 6 1 0 3-3 3 9 1 0 2-4 2 6 3-8 2 12 7-15 4 17 5-13 4 3 5 10 4-9 5 4 2-4 1-1 1 3 5-6 2 6 1 0 2-6 1 7 1 1 2-8 3 3 4-1 2 1 2 7 3-13 2 6 4 1 3-1 4 8 2-1 1-3 2-11 4 13 3-11 5 11 3-2 3-8 4 6 2 0 3 2 2-3 1 1 2 4 1-7 1-1 2 3 5-8 2 5 2-3 3 14 3-17 1-2 2 0 3-16 2 0 2-3 2 11 2-5 3 11 2-2 1 1 3 10 1 1 2-3 4 9 3-3 2 1 2-5 2 7 2 1 3-10 5 8 1-2 1 1 2 7 3-13 3 13 3-7 3-3 2-1 6 4 5 0 2-12 2 9 1 2 2 0 2 8 1 0 1-7 5-4 3 9 3-11 3 6 3 0 1-3 5 5 2 0 3 5 1-7 3-3 2-1 3 7 1-5 1 0 2 6 2 1 3-10 2 7 2-1 5-10 2-11 2 1 2-3 6 22 1 1 2-4 3 7 3-8 1-2 3 4 2 9 3-13 1-3"/><path d="M2480 760l0-57 1-3 3 3 3-2 4 2 4-4 3 4 2-1 2 0 2-2 3 4 4-2 2 1 3-3 3 3 6-3 2 1 4 0 1 2 14 28 2 0 6-5 3 2 1 0 3-8 2 4 1 0 6-23 3-39 5-31 6 40 3 39 2 9 4 3 2 5 1 1 2-4 4 5 5-6 2 9 2-7 7 6 4-5 3 7 3-7 1 3 3-3 5 4 3-3 3 9 2-6 1 1 2 9 2-11 2 3 5-7 1 0 3-2 7 9 2-14 3 14 4-4 2 5 3-4 2 0 4 5 5-6 3 5 2-4 1 0 3 4 2-4 1 0 2 7 1-8 1-1 2 6 3-7 2 3 2 1 2 5 3-7 2 6 2-13 2 7 5 1 3-2 3 1 3-2 2 3 2-7 3 14 2 1 3-10 4 9 4-3 3-9 1 2 3 11 3-3 2-5 2 5 9-7 2 6 3-2 5-8 3 7 3-5 4 10 5-13 3 10 2-6 2 7 2-3 5 1 4-5 3 5 3-1 3-3 2 3 3-5 6 7 6-14 3-2 3-13 3 0 1 3 2-2 3 9 3 1 2-3 1 4 8-26 2 6 2 0 3 13 2-4 2 6 4-3 3 7 2-7 0 1 2 8 2-1 1 2 5 11 3-2 3 3 3-8 6 9 2-6 1 0 2 5 1-4 3 10 2 2 3-11 1-1 3 5 2 0 3-3 2 0 2 3 3-1 4-4 2 1 2 12 1 0 2-10 2 2 2-5 3 2 2 5 2-2 2 10 2-8 1-1 2 3 3-4 2 3 2-9 2 0 2 5 3 4 1-7 1 0 2 9 2-3 3-1 2-3 2 1 2 4 3-7 4 2 2-4 3-3 4 10 5-1 3 4 3-2 3-5 2-1 3 14 4-8 3 1 2-4 2 7 2-6 2-1 3-2 2 3 4-4 5 7 5-6 2 0 3 9 3-1 3-16 3 6 1-1 3 4 2 0 3-25 2-1 1 5 3-22 9 23 3 18 2-5 2 9 4-2 5 3 2-3 3 2 4-4 2 7 3-3 2 3 3-7 6-2 5 10 1-1 3-9 2 4 1 0 2-2 2 5 2-1 3-8 4 13 7-11 4 1 2-1 3 2 2-1 2 8 2 1 3-3 3-8 1 0 3 10 7-8 1 1 3-6 3 4 2 0 1-3 3-12 2 0 3-9 2 3 5 13 2-2 3 6 1-3 2 5 3 3 3-11 1 1 3-16 2 5 2-4 2 6 2-4 1 1 8 29 3-11 2 5 1 0 2-3 1 7 1 0 2-8 3 9 2-2 2-7 2 9 3-2 9 0 2-2 2 3 2-7 5 11 4-3 2-5 3 12 2-11 1 0 2 11 1-5 1-1 2 1 5-7 1-1 3 5 3 1 2 3 2-8 2 6 2-12 3 16 6-14 3 9 2-3 2 4 2-3 3 10 3-11 1 4 3-4 7 8 6-9 3-3 1 1 3-5 3 4 2-3 4 6 2 6 3-11 3 3 3-1 3-17 5-6 3-1 3 3 5 15 7 11 2-5 4 6 3-9 2 11 4-3 5 1 2-5 2 0 3 10 2-11 1 0 1 11 2-1 3-8 2 6 2 3 3-9 4 2 2-5 3 3 2 5 2 0 3-3 2 3 5-5 3 8 3-12 3 7 2-1 2 7 2-5 2 4 1-2 2-10 4 13 2-4 1-1 2 3 3-3 3 6 3-6 4 1 3-8 2-2 3 1 6-11 5 13 4-10 3 10 6 12 3-9 6 2"/><path d="M2467 771l0-58 3 0 2-2 9 4 3-5 1 3 3 0 11-2 3 4 3-5 5 3 3-4 1 3 3-1 3 3 8 17 3 2 3 8 1 1 3-3 4 4 4-7 3 4 3-5 2-10 1-1 1-3 7-58 4-19 9 78 2-1 3 18 2-4 1 2 1 9 3-8 2-2 2 5 1-1 1-10 2 7 1 2 2-2 3 8 6-9 3 3 2 7 2 0 2-1 2-8 3 11 4-8 5 1 2 2 2-4 3 2 4-1 4 1 3-6 5 5 1 0 3-6 2 10 3 5 1-7 1 0 2 6 5-8 2 0 7 7 2-3 2 0 5-8 4 10 5-11 4 8 5-1 2 3 3-8 1 4 1-1 2-8 5 11 1-11 1 0 2 11 5 6 2-7 2-3 3 3 4-3 2 5 2-2 3 0 3-7 6 10 2-3 3 2 4-5 5-3 2 7 2-3 3 0 4-8 2 4 5 3 2 0 2 10 2-8 1-2 2 2 3-1 1-3 2-8 6 16 4-8 5 2 2-2 1 5 3-9 3 14 2-6 2 1 7-7 4-13 5 5 3-7 1 2 4 2 3-4 3 5 2-9 2 0 3-13 2-3 1 11 1 2 2-4 3 11 2-2 2 3 0-1 2-4 2 7 3-13 4 17 3-4 2 3 4 13 5 4 3-9 2 5 4 2 2-5 1 0 2 6 1-5 1 2 2 9 5-9 2 4 0-1 2-10 3 15 2-8 4-1 5 3 2-13 1 0 1 11 5 14 3-19 1 7 2-7 1 0 2 7 3-5 2-2 4 17 3-16 2-3 2 14 4-5 3 1 2-3 2 2 2-2 5 8 2-15 2 6 1 1 2 0 2 5 2-5 2 1 3-2 2 2 4-5 3 7 3-1 2-4 2 9 4-4 3 8 2-16 2 8 2-1 3 5 3-7 3 6 1-1 4-9 2 12 5-17 3 11 2 2 2-9 2 5 5-7 2 4 2 1 2-6 3 11 9-27 3-1 4-13 11 38 3-10 4 14 4-5 3 3 4-2 2 7 3-9 2 2 2 5 3-3 5 0 1-1 2 6 1 0 2-6 2-1 4-1 3 5 5-7 2 4 4 0 3-2 2 7 4-8 3 7 2-5 2 3 2 0 3 3 3-3 1-7 2 9 1 1 2-6 2 5 2-14 5 12 2 1 4-8 3-10 2-2 1 0 2 5 4-19 3 5 2 1 1-2 3 16 3-1 4 4 2-2 2 3 3-14 2 0 2-15 2-2 3 13 2-5 1 1 4 22 2 1 2-3 1 1 2 8 1 0 1 2 2 8 3-5 4-2 2 0 3-4 2 0 4 7 3-7 2-2 2 3 2-6 3 7 2-4 2 2 1-1 1-4 2 0 3 12 2 2 3-12 9 8 2-8 4 6 5-3 2 7 5-8 2 2 2 7 5-15 4 14 3-3 7 1 4-3 2 4 3-9 1 2 1-1 2-5 2 4 5 1 4 7 3-7 4 5 3-4 2-1 2 3 2-9 3 5 4-11 1-1 2 0 4-16 4 3 3 10 2 0 3 8 2 0 2 2 2 6 2-2 1 1 2 6 2-8 1 0 1 8 3-1 4 1 2-5 5 7 3-6 2 2 2-2 4 4 3 7 2-7 2 2 2-7 1-1 2 5 4-11 2 4 3-4 3 14 1-1 5 4 2-1 1-2 1-7 3 7 4-5 2 3 3-8 4 3 3-4 2 5 2 2 2-4 3 0 1 8 1 0 2-9 2 0 3 15 2-18 2 6 2-6 1 1 2 7 3-8 1 1 2-2 3-6 3 7 1-2 2-1 5 12 3-5 4 0 3 6 2 0 2-7 2 1"/><path d="M2455 782l0-55 2-3 5 0 2-2 2 1 2-1 5 2 2-1 2 3 5-2 2 3 4-3 3 2 5 0 2-6 7 3 2-1 5 8 9 20 7-1 2-3 2 2 3 0 6-7 4-15 10-69 2 2 2 11 7 60 1 3 1-6 4 20 2 2 5 0 3-7 3 10 2-1 1 1 3-4 2 8 3-10 4 11 2-10 1 0 2 10 3-8 6 10 5-11 4 6 3-6 2 3 2 1 4 5 5-6 2 3 2-3 5 2 4-2 3 11 3-10 3 2 3-7 5 0 6 4 3-3 2 6 5-3 4 5 2-4 5 3 4-8 5 10 3-4 1 0 3 3 4-4 3 2 1-3 3 7 2-7 1-1 2 5 2-4 4 3 3-7 3 11 1-7 2-2 3 4 3 0 1 4 2-4 3-2 3 3 2-2 4 4 2-3 3 2 1-6 1 0 2 6 3-8 2 5 2 0 2 3 2-4 1 0 4 7 2-8 2 9 3-13 2 6 2-8 2 5 1 0 2-5 3 13 3-7 3 3 2-2 3 0 4-8 2 12 1 0 2-12 2 5 1-2 1-13 3 9 5-14 1 2 3-2 7 9 2-15 2 1 3-5 2-1 1 1 3 7 5 3 2 8 2 1 3-11 2-1 3 9 4 7 2-1 6 12 3-5 5 5 1-2 3 15 3-13 2-2 2 9 7-13 4 11 2-7 1-1 2 4 2-4 2 9 5 1 3-10 2-3 2 5 4 1 3-1 1 4 3-9 2 2 3-1 2 4 2-3 3-2 2-6 4 15 2 0 3-7 2 1 2 0 5 6 2-3 1 1 2 5 4-17 5 15 1 0 3-15 5 13 2-4 4 6 7-10 2 9 1 0 2-10 4 16 3-14 2 0 3 2 2-1 2 6 2-5 3 9 2-4 2-13 5 8 2 0 3 1 1-2 5 6 2-2 1 1 1 5 7-16 3-14 1 9 1-3 2-19 3 3 6-11 3 23 6 8 4 8 1 1 2-2 1 2 1 7 3-9 2 8 2-3 1 0 1 5 2-1 3-8 5 6 1-3 3-13 3 26 2-1 2-8 0-1 2 7 3-10 2 6 3-3 1 3 3-12 2 1 3 13 1-9 2 4 1-1 2-6 5 10 4-4 2-6 1 0 3 8 3 0 3-5 2 4 2-8 4 5 5 2 2 10 3-18 2-2 2 5 1 0 1-5 2 3 6-18 6-8 5 11 2 11 2 2 2-1 3 6 2-3 2-13 7-14 2 16 2-6 1 1 4 15 1 1 2-4 1 0 3 15 5-10 4 7 2-4 1 1 2 10 2-7 2 2 2-2 1 1 2 4 4-11 5 11 3-3 3 4 3-10 5 4 2-6 5 8 2-3 4 1 3-6 2 0 2 8 2-11 3 15 5-15 1 5 2-1 3 4 2-1 3 5 2-8 2 6 5 5 1-13 1 0 2 13 3-3 2-6 2 2 0-1 2-7 7 11 2-5 3 8 5-11 4 9 7-7 2-1 2-3 2 12 3-17 1 6 1-1 7-28 4 11 5 4 2-3 2 20 3 1 2 2 3-6 4 6 4-6 4 10 3-4 2 5 1-1 4-7 2 5 3-6 4-3 2 9 5-5 4-1 3 2 5-1 8 4 3 8 2-8 2-1 3 3 2 0 2-6 5 12 2-6 3-3 1-5 3 4 2-1 2 4 2 1 2 3 3-9 5 6 4-10 4-1 3-5 2 1 7-3 2 12 3-6 5 10 1 0 2-6 3 6 2 0 3-8 1 9 1 2 2-3"/><path d="M2442 793l0-61 2 2 3-3 2 0 4 5 3-3 4 3 5-3 3 3 3-2 3 1 5-2 4 3 3 0 2-4 6 3 3-1 3 6 1 0 5 17 2 0 4 4 3 0 3-2 2 2 2-4 2 3 3-6 2 2 4-17 5-37 5-31 3 1 1 3 9 71 2-2 5 17 0 2 2-1 2 5 1 0 2-3 7-7 2 1 3 11 4-9 4 2 3 4 2-6 2 3 7 0 4-4 6 6 8-5 2-5 3 6 2 9 3-3 2 1 4-16 5 13 2-7 5 9 2 0 3-10 1 3 3 11 4-9 2 7 3-5 4 6 3-5 1 0 3-3 2 7 1 0 2-7 4 8 2-10 1-1 2 6 4-9 2 4 1 1 2-2 4 7 2-3 1 1 2 6 2-7 3-4 6 9 4-3 3 4 3-12 2 10 2-4 2 2 2-2 3 9 4-9 5-2 2 3 3-5 2 3 4 1 3-5 1 4 3-6 3 6 4 0 4-1 3 4 4-14 3 9 5 6 3 0 3-5 2 3 3-10 2 9 2 1 2-1 5-8 2-8 2 2 1-1 4-10 2 1 2 7 3-6 3-3 4 0 2 3 3-18 3 9 5 3 5 8 2-13 7 9 7 20 2-6 1 0 2 5 1-4 3 17 3-14 3 7 3-5 3 7 4-4 7 0 2-2 4 11 3-3 2 5 3-18 2 11 4-3 3 4 4-4 3 0 2-3 2 5 7 6 3-8 1 0 2 2 3-7 3 15 1-12 3 7 2-3 2 0 3 2 4-4 2-8 3 9 2-3 2-1 3 7 2-5 2 3 1 0 1-5 2 5 1 0 2-6 3 8 4-7 4 0 3-5 4 9 2-3 1 0 2 6 2-6 7 6 2-6 2 12 3-8 2 5 3-5 3 2 3-1 5-12 1 1 3 8 3-1 2-4 2 5 2 1 2-12 1-2 2 0 3-15 1-1 2 1 3-12 2-1 2 7 5 20 2-7 3 24 6-13 5 9 2-1 2-3 1 1 2 6 3-7 1 4 7 0 2 6 3-10 2 8 2-1 1 2 2 7 1-3 3-10 3 3 4 1 2-4 5 9 2 1 7-14 6 12 3-9 5 4 2-4 4 1 3-4 2 12 2-4 2 0 3 1 3-13 1 5 5-8 2 1 2-10 2-1 3-8 5-3 2 16 7 9 4-8 2 2 1-1 2-9 2-3 2 2 3-7 2-1 4 25 3-6 2 5 11 12 3-11 1 1 5 11 5-9 4 9 3-7 4 8 5-4 2 4 1 0 4-9 5 1 4 5 4-5 3 5 2-2 2 5 3-3 4 4 4-12 3 15 5-8 2 3 4-5 3 10 2-7 2-3 3-1 2-4 2 6 2-4 3 8 2 2 4-3 3-5 2 0 5 7 2-4 2 2 2 0 3 5 1-12 1-2 2 3 3-11 2-1 2 8 2-12 2 6 3-18 4 10 3-11 2-1 2 0 3 10 1 1 5 21 1 2 2-5 1 5 1 0 2-5 3 13 2-4 2 1 0-1 4-8 6 9 3-4 3-6 2 4 3-5 1 15 1 0 2-16 2-2 3 12 1-11 1 0 2 16 2-9 1 0 2 8 4-8 5 0 2 2 2 8 5-4 3 0 2-2 1 4 5-8 3 4 2-7 2 4 2-3 1 1 2 7 2-4 2 6 3 2 2-1 4-10 2-7 1 0 2 5 2 2 2-9 3 2 8-11 3 15 2-3 3 4 2 0 2-9 5 24 2-12 1-2 3 7 3-13"/><path d="M2430 804l0-57 9-2 9 3 6-3 3 3 3-4 4 4 4-3 7 2 3-2 5 0 3 2 3 9 2 1 5 14 7 1 2-1 2 0 3-3 2 2 4-7 2 0 1-4 7-34 4-38 4-4 5 31 3 26 4 8 2 16 2 1 1 2 2 10 3-13 1 8 3-2 4 6 4-2 3 4 2-4 3 4 2-2 2 10 5-14 4 3 5-9 2 5 3 2 2 1 4-3 3 13 2-19 7 12 2-2 2 3 2-8 1 0 4 10 2-5 2 2 3-4 3 1 3 6 3-4 3 3 4-5 2 2 3-2 2 2 2-8 2 14 2-2 3-11 2 8 1 1 1-6 2 2 3 0 3 5 3-4 3 9 3-10 2 2 2 7 2-9 5 7 3-11 4 9 2-1 2-4 1 0 2 3 1-5 3 8 3-7 3-1 3 6 5 1 2-4 2 8 3-19 2 11 2-5 1 0 1 6 2-6 1-1 2 6 2-4 1-2 2 1 4 10 3-8 4 3 2 0 2-4 3 12 2-10 2-6 2 7 1 1 2-7 3 7 6-2 3 3 4-3 2 2 5-12 2 4 2-7 5-1 2-6 1-2 1 1 2-5 1-1 7 5 2-10 2 6 5-13 4 4 3 7 4-2 2 15 3-12 2 0 3 11 1 3 2-2 3 2 5 16 2-7 4 4 3-5 2 12 2-7 2 2 3-4 2 3 2-8 7 14 4-6 3-7 6 10 3-4 5 7 2-7 4 6 3-10 2 0 2 3 3 9 2-3 3-1 4-16 2 9 6 10 5-6 3 1 2-3 2 0 2 6 1-1 2-6 2 2 1 0 1-6 3 8 2 1 3-3 2-4 1 2 5-2 3 4 2-7 2 9 3-1 2-5 3 9 3-8 3 8 3 4 1-2 5-17 3 15 2 2 1-1 1-2 2-10 5 4 2 4 2-5 3 5 2-4 4 7 5-9 2-1 3 1 1-9 1 0 2 4 2-3 3-19 4-7 5 1 2 8 2 1 5 23 3-1 3 4 3 10 5-16 2 5 2-2 5 4 4-3 2 2 3 0 4 6 2-4 1 0 2 3 2-4 2 12 3-18 2 2 2-1 1 1 4 10 2-2 2 2 1-1 2-5 2 1 2 0 3 8 2-1 2 3 2-16 7 7 3 7 2-6 4 1 3-8 2 11 2-8 5-6 2 8 2 2 3-24 2-4 3 1 5-8 1-1 5 14 4 4 2-5 1 0 2 6 2 2 2-17 5-5 2 7 1 2 1 0 3 7 4-1 1 1 4 12 5 3 4 7 2-1 2-8 3 10 2 1 2-7 3 4 5-2 1 1 2 6 3-11 2 3 3-6 4 10 5 1 1 5 3-11 2 5 3-7 4 5 2-6 3 10 2-9 1-1 1 8 3-11 4 10 3-9 2 6 2 0 3 3 2-1 2 2 2-1 3-5 6-2 3 5 2-3 2 4 2-3 5 1 3 5 2 2 1-11 1 0 2 9 3-2 2-4 2 3 4-7 3 11 4-12 2 5 1-1 4-17 1-2 2 1 6-15 5 11 4 12 1 0 2-3 2 7 0 2 2-2 3 13 4-1 2-12 2 3 3-4 3 11 2-4 4 5 2-3 3 2 2-2 2 9 3-3 2 0 3-11 3 9 1 1 2-5 4 7 2-1 3-17 3 13 2 0 2-5 4 9 3-14 2 0 4 12 1 1 2-3 2-1 2 6 3-15 2 10 3 2 3-1 3 10 5-17 1 3 3-1 2 2 3 6 2-12 2-2 3 4 5-5 3 6 3-6 3 4 3-3 5 14 7-11 5 6"/><path d="M2417 815l0-56 2-2 3-1 2 0 2 4 10-4 6 4 3-4 2 2 5-3 2 3 2-1 2 2 7-4 3 3 4-2 5 6 11 22 5 1 4-5 3 3 4-6 5-14 9-54 4-19 7 38 2 8 5 34 2 3 3-1 4 10 2-1 1 2 2 5 2-4 4 1 3-8 2 5 1 1 1-4 5 12 2-10 1-1 2 7 6-9 3 6 2-4 2 7 2-4 1 0 2 6 2-7 1 0 1 5 2-4 3 7 3-12 2-1 2 9 2-1 3 4 2-3 1 4 3-8 2 3 3-5 3 5 3 3 3-6 4 9 2 1 3-11 3 4 2 0 2 3 2 0 5-4 2 5 2-15 5 20 4-14 5 11 2-7 1 0 2 4 4-11 3 7 2-5 4 14 2-5 1-1 2 0 3-5 1 1 3 10 4-5 4 0 5-3 3 7 1-2 3-1 3-8 4 10 2-8 2-2 3 11 3-3 1-6 3 1 5-6 2 4 1-2 1 1 2 6 2-7 1 0 2 8 2-4 0 1 2 9 5-13 2 6 1 1 1-2 2 6 3-7 2 3 3-6 4 2 5-5 4-7 3-10 2-3 2 11 1-1 1-15 2 5 1 1 2-2 2 4 4-10 5 1 3-9 2 3 5 16 6-11 3 11 2-1 3 4 1-2 2 7 1 0 2-6 4 12 2 5 3-5 2 6 3 2 6-7 3 8 3 3 6-8 2 12 1 1 2-13 4 3 3 6 2-6 4 5 5-10 3 5 3-3 1 0 4 5 3-8 2 9 5-3 3 5 3-9 5 8 2 0 2-6 2-1 3 3 2-3 1 0 1 4 3-7 5 11 3-5 3 1 2 4 1-1 2-5 4 9 3-2 5-8 1 3 5-5 3 6 3-1 3-4 2 5 1 1 2-4 2 4 4-6 3 7 3-5 1 1 5-2 3 1 3-6 3 9 2 2 3-9 1 1 1-2 2-6 2 8 1 0 2-8 2 2 1-1 10-27 2-1 5 5 3 14 1 3 3 9 2-3 1 1 2 9 2 0 2 2 2-6 3 9 2 1 2-4 5 3 3-7 3 11 3-7 3 5 2-3 4 1 5-2 4-13 3 15 2-2 5-9 4 9 2-8 1-1 2 7 1-4 1 1 4 8 3-11 3 10 1 1 3-5 2 4 3-7 6 4 2-7 1-2 2 0 1 0 3 8 3-15 2 3 2-11 7 1 4-13 3 9 2-4 3 16 2-5 4 9 3-11 2 0 2-3 2 3 3-5 3 0 3 9 2-6 3 13 3 2 2 4 1-4 1 0 2 3 2-1 3 12 1-6 1-1 2 1 2-2 3 5 2-3 1 1 1 3 5-5 4 5 5-5 2 0 3 7 1-3 3 3 2-1 3-15 6 11 5-7 2 1 3 4 2 6 3-13 2 5 1 0 6 3 4 7 2-14 2-3 3 9 2-1 2 3 3-3 2 3 3-1 2-2 1 8 3-12 3 8 2-4 1 0 3-5 2 0 3 13 3-3 1-4 2 7 3-9 4 4 2-6 1-1 2 5 1-1 5-17 1-2 2 0 5-11 2 2 2 7 2-7 1 0 6 18 2 1 3 13 5 5 1-11 1-1 2 7 3-7 4 6 2 0 3 3 6-6 5 10 2-10 1 0 2 8 1-7 1 1 2 8 2-2 1 0 2 4 1-10 1-2 2 1 3-11 6 22 2-6 3-4 4 0 3 5 2-3 2-8 1 1 2 8 1 0 3 3 3-4 2-6 4 7 3-2 2-4 3 6 1 1 2-2 3 9 3-16 2 6 1-7 1-2 2 1 2-5 1-1 2 4 2-14 4 10 3 0 3 13 1-2 2 5 1 0 2-5 2-7 1-1 4 17 2 0 3-8 2-1"/><path d="M2405 826l0-57 2-2 2 3 5-1 6-3 5 1 3-1 4 1 5 0 3 2 3-1 3 2 3-2 8-2 3 5 2-3 4 4 3 9 6 12 2 1 4-2 2 2 4-5 3 0 2-2 3-11 9-42 8-31 14 79 0 3 2-3 3 5 4 0 2 16 3-14 5 8 3-6 3 10 2-8 1-2 2 1 2-4 2 11 2-1 3-7 2 4 1 1 1-2 2 11 3-19 3 18 2-1 2-10 2 1 5 12 2-13 4 6 3-3 4 5 3-8 2 3 2 0 1 1 2 5 4-4 3 0 2-3 4 2 2 0 5-5 2 9 3-9 4 0 3 7 4-12 3 13 2-7 2 3 2-7 2 5 1 1 2-2 3 6 1 0 2-9 3 12 2-3 3-1 1 3 1-1 2-6 3 6 2-4 2 1 2 9 2-9 1 0 2 6 2-6 2 9 5-13 3 1 3-5 6 8 2 0 2-3 2 8 5-6 2-7 2 12 2-5 1-1 2 4 3-6 3 2 3-3 5 11 2-15 2 8 5-4 3 6 3 0 3-6 2 0 3 1 2 5 2-3 3 1 2-2 6-18 3 6 2-11 1-3 1 1 2-6 1 0 2 3 2 7 1 0 2-8 4-6 2 1 3-10 6 19 1 1 2-4 2 6 2 2 3-11 2 8 3-3 3 7 5 15 1 1 3-1 4 3 4 0 2 6 2-9 3 9 2-4 2 3 1-1 2-7 1 6 3 4 5-8 1 7 1 2 2 1 5-9 2 13 1 0 3-20 3 11 3-5 4 11 4-9 3 7 2-4 2 2 5-13 4 16 3-12 2 8 3-1 3-4 3 2 3-1 2 2 1 4 3-7 2-1 5 11 7-13 2 4 2 16 2-9 3-5 2-1 3 8 2-6 4-4 3 0 2-4 2 10 2-1 3 0 4-11 3 8 2 0 5 6 2-12 2 7 3-7 4 7 1 0 1-2 2 3 1-1 2-5 2 1 1 0 3-8 3 5 3-12 4-6 4-16 1-2 2 2 2-4 2 6 2 1 3 13 3 7 1 1 3 16 4-10 3 11 2-11 2 2 3 10 2 1 2-4 5-7 2 2 3 8 1-5 2 4 1 0 2-5 2 2 3-3 1 4 1 1 2-3 3 9 2-1 2-7 2 2 5-9 3 13 1 2 5-3 3-7 3 5 3-3 3 2 4 0 2 6 2-8 1-2 2 3 2-8 1 0 1 8 2 1 3-3 2 2 1-1 4-6 2-6 2 1 1-1 4-10 2-1 2-5 3-3 3 3 3 9 1 1 2-2 3 5 2-4 2 7 7-21 2 4 2 0 5 16 3-13 7 24 2 2 2-1 4 4 2 8 3-10 2 9 2-6 2 4 3-14 3 13 3-6 3 3 5-5 1 5 1 0 2-3 5 8 2-6 2 5 3-9 2 4 4-4 2 6 1 2 2 0 3-10 2 3 1 1 3 11 3-8 2 3 2-1 2 4 2 0 5-8 2 3 5-2 2-5 3 8 2-6 2-9 2 9 1 2 2-3 2 9 4-3 3-16 2 13 1 1 1-7 3 9 4 5 4-14 3 7 2-2 3 0 4-16 2 1 3-2 3-13 3-2 3-8 3 12 2 1 2 16 4-3 3 6 2 1 2 12 5-12 2 0 2 22 2-4 3-16 2 2 3-1 2 16 2-11 5-5 2 8 2-7 3 2 2 5 3-9 3 2 3 7 3-3 2 1 4-11 2 12 1 0 2-10 4 12 2 0 1-2 2-8 4 10 2-2 3 1 2-1 3-9 2 11 2-2 2 10 3-14 4-7 3 11 4-2 2 2 2-6 1-1 2 1 6-12 1-1 2 3 2-9 1 0 2 10 4 3 2 4 1 1 2-3 4 13 5-12 2 12 1 0 2-12"/><path d="M2392 838l0-60 3 5 5-5 2 2 4 0 5-1 6-3 3 6 3-3 1 1 3-1 2 1 3-1 8-1 3 2 4-3 2 0 3 2 3 7 10 18 1 1 2-2 5 2 2-4 3 0 1-3 8-20 6-37 6-29 8 44 9 43 2-2 1 1 2 6 1-6 1 0 2 6 3-6 4 11 2-8 2 5 1 1 4-1 2 6 3-10 4 8 3 2 4-10 7 6 2-6 5 8 2 0 1 1 1 5 5-22 3 13 3-3 3 4 2-8 3 11 2 0 2-11 8 8 6-3 2 4 4-9 3 9 2 2 3-4 2-9 2 13 2-8 1 0 2 7 2 1 3-8 2 5 2-1 5-5 1 3 1 0 2-4 3 9 2-1 3-5 1 1 3 9 4-9 3 3 1-7 3 13 3-7 4 7 2-6 3 0 4 2 2-6 2 6 1 1 2-1 2 3 3-11 1 9 1 0 2-11 3 10 4-9 2 10 2-8 1 0 2 9 4-8 7 1 3-5 2 13 4-9 3 8 2-6 2-10 5 7 6 4 7-3 5-14 2 2 3-8 2 3 1-1 1-7 3 2 2-2 5-9 4 3 3-7 3-2 3 1 3 11 2 3 2-4 1 0 1 7 5-13 5 23 2 1 2-2 3 6 2-1 2 4 4 1 3 10 2-9 1 0 1 9 2-1 1 1 2 5 3-10 2-2 6 11 3-11 2 7 4-5 3 1 2-2 2-5 5 11 3-4 3 3 3-6 3 4 4-4 2-6 3 11 5-11 6 12 3-3 2 3 1-1 1 1 2 5 2-5 1 0 2 6 3-13 4 6 4-2 3 1 2-2 2 2 2-2 3 5 4-11 3 11 2-1 3-7 1 3 5 0 5 3 2-4 2 1 2-2 3 1 2-7 2 8 2-5 1 0 2 5 3-9 3 11 3-9 2 7 1 1 2-6 2 6 2-4 3-2 2-6 2 13 2-4 3-18 2-3 2 0 2-9 2 2 3-8 3 0 2-3 4 16 2 0 1 3 2 10 2-1 1 1 1 6 3 0 2 4 2-5 1 0 1 8 3-10 5 12 2-1 2-8 2 0 3 10 6-14 5 11 3-4 3 7 3-3 5 1 4-3 2 4 1 0 2-5 2 8 1 0 1-8 5 1 3 7 3-6 5-3 3 9 4-11 3 9 2 0 3-4 3-3 3-9 3 2 2 5 2-17 2-1 3-8 2 1 2-7 7 17 2-5 1 0 3 12 5-14 3 11 2-16 5-7 5 15 1 0 2 2 3 15 3-8 2 6 1 0 1 2 2 8 3-6 2 4 1 1 5-2 3 9 3-7 1-1 2 7 1-1 2-12 2-3 3 8 4 7 5 1 2-8 2 7 3-5 2 3 3-7 1-1 5 3 5-4 2 10 2-4 3 3 2-2 2 0 2 0 2-3 5 13 2-11 2-3 3 6 2-7 3-5 2 10 2 1 2-3 3-1 2 7 0 1 2-7 3 10 5-10 1 0 3 5 4-9 3 12 1-8 3-5 2 8 1 0 2-10 4 3 11-20 5-16 3 10 1-4 1 3 4 17 1 1 2-3 4 8 3 9 2-1 3-6 2-1 1 5 3 1 3 12 4-14 2-4 5 20 3-12 1 6 3-3 5 0 2 2 2-7 2 2 3 7 2 1 2-15 2 6 3 3 2 6 3-14 1 12 3-6 2 0 3 3 2-2 1 1 3 8 5-6 3-2 3-8 3 8 2-9 1 0 1 9 3-2 2 1 2 5 1-1 2-6 1 0 3 1 3-9 6 1 3-7 2 4 5 1 1-4 3 8 5 4 2-3 0 1 2 4 2-4 1 1 2 4 2-4 1 0 1 5"/><path d="M2380 849l0-62 3 6 2-3 2 1 4 0 3 2 2-4 5 1 2 1 3-2 1 2 5-3 5 4 1-2 3 2 3-5 4 5 2 0 2-4 3 3 3-2 3 4 8 12 2 8 7 3 3 0 6-7 5-14 4-14 7-37 2-5 2-10 2-2 5 25 7 41 1 3 2-2 2 10 2 0 2 2 3 10 3-6 3-4 3 10 2-2 1 1 2 4 1-4 3-1 2-3 3 7 4-3 2 3 3-9 3 18 6-12 2 2 3-1 1 7 1 0 2-8 2 1 3-5 4 10 5 2 5-4 2-7 2-1 2 6 1 0 2-1 4 8 3-7 5 8 1-3 2-8 1 0 2 9 2-8 1 0 2 9 4-8 5 7 4-12 5 7 6-5 3 7 3 2 2 1 2-5 2 2 3-1 2 2 2-11 1 0 1 11 2-7 1 0 2 8 6 1 3 2 7-9 2 10 3-9 2 2 2-1 2 10 3-12 4-3 3 6 2-5 4 7 5-7 2 3 5 2 2-3 3 9 1-7 1 0 2 5 7-10 4 7 3-16 4 23 2-10 1-2 2 1 2-2 4-17 1 0 4 7 3-13 4 1 2-3 3 4 9-22 2 7 1 1 2-5 2 6 4-3 5 9 2-7 2 4 3 2 2 6 1 1 2-2 1 8 1 2 2 0 5 9 2 8 0-1 2-7 5 9 4-4 2 0 3 12 2-12 1-1 2 9 2-12 5 7 4-1 2 4 2-7 1 0 2 8 5-2 1 5 3-11 2 8 1 0 2-10 2 2 2-4 3 11 4 0 2-5 2 6 1 1 2-2 2 7 3-9 1-1 3-7 3 10 2-6 2 1 2-1 5 19 5-19 1 3 1-1 4-7 3 12 2-3 2-7 3 15 2 3 3-12 1 0 3-5 7 9 1 4 3-9 3 4 4-3 2 10 2-7 1-1 2 1 3-9 2 7 1-4 1 0 2 8 2 2 3-11 4 10 3-11 2 2 3 8 4-16 3 7 1 1 1 0 4-20 4-6 3 3 2-15 2 4 2-1 3 3 2-2 1 1 6 22 3 4 2-3 2 11 2 0 2-2 3 3 3-4 1 2 2 0 3-7 2 10 1 0 2-9 2 15 2-2 2 6 1 0 2-7 2 1 0-1 2-6 5-7 2 11 1 1 1-6 7 21 3-15 1 6 1-1 2-10 2 6 1 0 2-5 2 4 1 1 1-5 3 5 4-10 1 0 4 13 7-10 2 8 2-1 2 2 3-16 3 4 1-2 2 0 3-14 2 2 3-2 2-10 2 0 7 4 2-3 3 16 2 2 3-10 3-5 3 0 2 5 1-1 2-10 2 3 7 16 2-2 1 1 1 9 2-3 3 4 5 0 2 9 4-5 3 5 2-6 2 1 2-1 3 7 2-5 1 0 1 3 5-3 2 4 1 1 2-2 2 9 4-11 6 11 6-12 2 1 1 1 2 7 2-6 2 6 3-10 4 7 4-2 3 2 3-7 3 6 3-4 2 7 1 0 2-6 4 4 5-4 2 6 1 0 4-17 4 13 1 1 3-9 3 11 2-10 1 0 2 7 2-9 2 10 2-7 1 0 2 5 3-9 3 1 3 3 3-12 2-1 1 2 1-2 2-10 5-5 2 2 3-3 2 2 2 10 2-2 1 3 2 13 2-4 2 2 2 7 1 1 2-3 1 6 3-11 2 5 1 1 2-2 4 15 5-15 3 5 2-4 1 2 3 1 2-2 3 7 2-1 2-7 7 10 2-11 2 17 1 0 2-15 5 10 1-6 1-2 2 0 2-7 1 1 5 18 3-12 1 0 2 4 5-2 2-6 2 5 5 4 2-6 2 6 3-6 6-3 2 1 3-9 5 8 4-4 2-9 1 0 2 8 3-10 6 16 5-3 1 4 1 0 2-1 2 2 3-4 2 7 0 1 2-1"/><path d="M2367 860l0-61 3 2 4 1 3 2 4-5 2 5 1-1 2-4 3 3 1-4 3 0 5 3 2-1 2 2 4-1 3 5 2-6 4 2 5-2 3 2 2-2 2 3 2-1 3 6 2 2 7 18 4-4 3 3 2-3 2 1 5-12 7-22 2-4 5-31 2-6 2 0 1-3 2-11 1 2 1 5 4 35 1 3 2-6 2 20 2-1 3 21 2-1 2 2 2 13 5-6 5 2 2 14 2-1 5-17 2 11 1 1 1-6 2-2 5 10 3-7 2 2 2-1 5 0 2-1 2 3 3-1 4 3 3-5 1 4 1 0 2-5 2 2 3-4 2 4 2 9 3-9 2-2 4 2 3-4 2 2 3 7 3-8 3 3 2 5 3-8 2 1 2-2 3 4 2 0 2-3 3 8 2-11 2 5 2 0 5-2 2 13 3-13 4 6 2-6 2-1 5 6 3-2 2 4 2-14 3 12 4-8 2 10 2-1 3 7 2-7 1-1 2 4 2-6 2 1 5-1 2 2 2-2 5 3 2-1 3 1 1 2 3-5 2 7 3-9 2 2 2-1 3-4 2 1 3 5 3-6 3 5 5-3 2 5 2-4 3 2 6-6 3 5 4-6 3 1 2-9 4-2 3-11 4 5 2-5 5-5 3-11 1 3 3-5 2 4 3-3 2 0 2 5 3 2 2 4 2-2 2 8 2-8 3 23 2-5 3-4 4 6 3 10 2-5 2 6 1 1 1-2 2 3 3 1 3 6 3-2 3 1 2-4 3 6 2-7 2-1 2 5 3 2 9-13 3 8 2-2 4 3 3 4 5-9 1-1 5 13 3-13 2 6 2-1 4 8 3-8 3 5 1-2 2 1 3-1 3-11 2 3 2 15 4-5 3-1 4-9 2 8 1 0 2-4 4 11 2-11 3-5 3 10 2-5 2 4 2-1 3 1 4-2 2 3 2-3 3 6 3-8 3 9 3-11 3 5 2 1 2-5 0-1 2 4 3-8 5 13 1-4 3 0 2-2 5-14 4 6 5-5 2 5 4-27 1-1 2 5 3-7 2 0 1-2 5 10 1 1 2-4 2 16 1 2 1-6 2 11 1 3 2-1 2 9 1 0 2-8 1 7 1-1 2-11 3 14 4-5 2 7 5 1 2-6 1-1 1 1 2-2 3 10 5-6 2 1 4-6 5 8 2-3 3 3 2 0 3-10 2 4 1-4 1 0 2 8 2-1 3 5 2-5 2-4 2 0 3 8 5-9 1 5 1 0 2-5 2 4 1 1 2-3 4 5 5-12 2-1 4-6 3-12 2 1 3-6 1 2 1-1 2-6 3 8 2 1 2-5 1 1 4 17 4-9 1 0 2 3 1-1 3-8 2 4 1-1 2-8 4 14 2-2 1 2 4 15 1 0 1-5 5 9 2-3 3 5 2-2 2 2 3-4 4 6 2-7 2 6 1 0 2-7 2 11 1 1 2-4 1 8 5-13 3 7 3-3 1 2 3-6 2 4 2 0 3-4 2 10 2-8 2 2 3-4 2 4 0 1 2-2 5 7 4-4 2 4 3-5 2 2 3-10 2 9 5-2 2-2 3 10 1 1 3-13 2 9 2 0 1-2 2-7 4 8 2-5 1 0 2 6 2-9 0-1 2 7 2-3 3 1 2-7 2 10 5-16 3 15 4-14 2-3 5-15 3 4 4-14 2-1 3 21 2-8 1 3 3 12 5 10 2-1 1 0 1 5 2-5 3 6 2-4 3 9 2-11 2 1 3 0 2 2 2-7 4 8 3-6 3 8 1-2 2-5 1 1 2 7 5-3 4 2 5-10 4 16 2-4 3 3 5-1 2-9 2 4 2-2 3 3 2-4 2 5 3-7 4 3 3 8 2-3 2-5 3 5 4-6 2-6 3 7 2-4 4 0 5-12 2 8 3-12 1-2 3 10 2 0 3 9 4-2 2 3 3-5 3 11 3-4 3 2"/><path d="M2355 871l0-62 5 5 2-4 2 1 3 4 2-2 3 1 1-3 2 4 3-5 3 4 2 0 2-4 2 1 5 0 2 2 2-2 3 1 7-2 2 4 2 0 5-6 6 10 7 19 4-1 3-2 3 3 4-9 2 2 1 0 2-6 3-4 3-20 1-4 2-1 6-41 3 12 2-8 1 1 5 28 3 8 8 29 1 1 1 2 2 9 2 2 3-2 2 6 2-10 5 10 5 1 2-4 2 2 2-4 3 7 2-3 2 5 5-12 2 5 1 1 1-4 5 9 5 0 2-6 2 0 3-10 6 15 3-3 2 3 2-11 1 0 2 10 1-6 1 1 2 8 2-7 1 0 2 7 4-6 7 1 3 3 2-3 2 0 2 3 3-6 4 6 2-7 1 0 4 11 3-13 1 6 3-7 5 10 2-8 2 3 3-2 2 3 3-6 6 13 3-6 2-1 2 4 4-9 3 7 2-5 2 7 2 1 3-9 3 5 6-8 3 11 2-6 4 2 2-6 3 7 2 1 3-4 1 9 1 0 2-9 2 5 3-5 2 4 1 0 1-5 5 5 2-4 3-2 2 10 5-7 2 0 2-6 2-4 3 3 2-3 5 6 2-9 2 4 3-18 2 2 2-5 4 6 5-10 4-1 3-6 2 0 3-8 4 17 3-6 2 0 3 9 1-4 3 1 4 4 4 14 1 0 2-5 5 16 3-9 1 4 2 13 3-18 5 19 2-10 2 2 2-3 5 11 1 0 1-5 2 1 3-3 3 2 2-3 2 8 2-3 3-1 2-3 3 8 3-14 3 16 3-11 2 3 1-3 3 3 7-2 2 8 5-14 3 4 1 8 3 0 4-7 3-1 4 15 2-8 1-1 2 6 3-13 1-1 3 4 4 0 3-6 2 3 2-1 3 11 4-4 2 9 3-9 4-1 3-11 2 12 7 0 2 4 2-10 3 4 2-1 2 1 4 7 5-9 3 2 2-3 2 5 5-6 4-2 2-8 1-1 2 3 3-7 2-1 2-12 2-3 9-2 2 1 3 9 5 8 1-4 3 8 2-1 3 11 2 1 2-6 2 6 1 1 2-1 3 6 2 0 1-4 1 0 2 5 3 1 2 3 3-7 1 1 2-2 5 7 3-10 1 4 1 0 2-3 2 7 1 2 2 0 2 5 2-12 7-6 3 16 4-6 3 0 2-2 4 5 3-6 2-1 3 3 1-3 3 4 2-4 5-2 2-2 2 1 1-1 4-7 2-9 1-2 1 2 2-3 3-16 3 8 3 4 3-7 5 9 2-4 2 10 2 1 3-14 5 2 2-5 2 5 2-5 3 17 2-2 2 1 6 14 4 3 1-2 1 0 2 5 2-1 3-4 2 5 2-1 2 1 3 0 3 9 3-9 1 0 2 4 2-1 3-2 2-8 2 11 5 5 3-9 4 4 5-7 2 0 2 2 2-3 3 2 2 5 3-5 1 3 2-3 3 2 2-6 3 13 1-6 1 0 2 5 3-12 2 9 6-2 3-7 3 7 6-7 2 9 1 1 2-5 2 6 4-10 3 7 3-2 2-6 2 3 2-2 3 4 4-3 2-12 3 8 5-20 3 3 3-9 7 2 2 3 3 14 4-4 2 16 2-2 1 0 2 6 2-5 1 0 2 6 2-1 2 0 2-2 3 7 2 0 4-10 3 7 3-4 6 2 3 2 2-1 2-5 1 0 1 2 2-3 3 8 3-3 3 6 3-10 3 5 2-2 3 7 1-5 5 1 3-6 3 3 3 0 5 4 2-1 2 2 2-3 3-1 2-5 2 6 2-11 1 0 2 9 3-4 4-1 2-3 2 4 3-13 2 4 1 1 1-2 2 6 1 0 2-7 2 8 1 0 2-7 2 12 2 1 5-6 3 15 1-1 3-13 2 5"/><path d="M2343 882l0-57 4-1 2 1 3-3 2 4 2-3 5 2 3-2 2 1 1-1 3 1 7-2 5 1 2-2 5 4 2 1 4-2 3 2 2-4 4 1 4 3 10 21 1 1 4-3 2 2 3-6 2 4 3-7 1 2 3-13 2-3 8-42 3-10 3-2 2-7 7 23 2 15 1 4 2 1 6 33 1 1 2-5 3 10 3 1 3-2 2 1 3 12 4-9 2 1 3-2 2 1 2-5 3 9 2-7 3 4 3-1 3 4 2-3 3 3 2-3 2 6 2-7 3 10 5-6 2-1 2 4 9-9 2 6 1 1 2-1 2 1 3 5 4-11 2 8 1-1 2-15 2 7 1 1 1-3 5 18 5-17 2 8 2-7 3 2 6 1 2 0 3-3 3 4 2-1 4 2 5 9 3-4 3 2 3-9 2 3 1 0 3-12 5 12 1 1 2-3 3 2 1-2 3-7 4 3 3 4 2-5 2 3 2 0 3 9 4-6 5 3 3 5 2-5 4-4 3 5 4-11 5 13 2-6 3-2 2-5 1 4 3-4 3 3 2-4 4-3 3 4 2-3 2-13 3 16 4-14 2 2 1-2 2-8 2 1 2-6 5 4 5-17 4 3 2 5 3-8 2 3 4 9 3-6 3 0 1 3 2-4 3 20 2-6 1 0 2 4 2-2 4 15 1 1 4 0 3 8 2 0 4-4 3 5 2-2 2 4 2 0 7-9 3 8 5-8 3 8 1 1 2-3 5 11 3-6 1 0 2 2 3-9 3 6 2-2 2 0 4 5 3-13 3 15 3-9 3 3 5-2 4 3 2-5 1-1 2 2 2-3 5 14 2-1 5-10 2 9 5-11 4 7 4-3 3 2 5 1 4-10 2 1 3 12 3-14 1 9 3 5 2 1 3-8 2 0 2 4 2 0 8-7 1 1 3 11 4-10 4-4 3 8 3-13 2 8 3-8 6-11 3-13 3-6 3 4 3-3 4 2 4 13 3-7 3 17 4 16 5-12 5 12 1-6 5 7 2-5 1 0 2 5 6-3 3 2 2-2 2 1 5-2 5 8 4-12 9 11 3 0 4-3 3 4 1-5 1 0 2 5 3-9 4 8 4-7 5-3 2 3 5-3 2-4 1-1 2 2 4-11 5-3 3-14 1 1 2 3 1-1 2-10 3 14 2 2 2-1 5-5 6 2 3-4 2 4 2-1 3-4 4 9 3 9 2-1 2 9 1 1 1-6 5 12 2 0 3-12 1-1 3 17 2-7 1 2 2 15 3-16 1 4 2-1 5 7 3-6 2 2 4-5 3 4 3-2 3 1 3 3 5-4 7 8 2-1 3-11 3 4 5 3 4-5 3 5 5-5 3 11 3-4 3 2 2-2 3 1 4-6 3 6 5-9 4 9 5-8 2 4 1 1 3-6 3 6 2 1 3-9 3 2 1-2 5-13 2-3 2-2 4-8 3 5 3-13 1 9 7 12 1 0 2-3 6 21 1 1 2-6 4 8 2-2 1 1 2 6 2-8 1 0 2 6 2-6 2 1 3 9 4-7 2-4 5 0 2-3 3 7 2 3 2 4 5-10 2 5 2 1 2-6 3 13 3-16 2 0 2 11 2-8 3 2 2-4 2 6 2-1 2-5 3 7 3-5 2-1 1 3 3-4 3 1 2-1 2 10 9-16 2 4 7 2 5-13 4 7 1 0 2-3 2 1 2 5 3-6 2 5 2-1 1 1 4 9 2-7 2 0 3 8"/><path d="M2330 893l0-59 3 1 4-1 2 2 5-4 3 4 3-2 3 1 2-2 5 4 2-3 3 1 6-2 8 4 4-3 2 0 2 2 3-4 5 1 4 8 5 14 2 2 4 1 3 4 7-15 5-7 2 0 2-15 2 0 5-27 6-16 2-2 1 0 7 23 2 15 2 1 8 37 2-8 5 9 2 0 3 2 1-3 2 3 3 0 3 3 3 8 3-11 3 6 2-5 2-1 2-6 3 11 4-5 3 6 1 0 6-11 2 3 2 1 2 9 3-8 2-2 3 10 2-5 1 1 3-3 2 8 1 0 2-9 4 5 3 8 2 0 5-12 1 1 3-2 3 9 4-10 2 12 2-8 1-1 2 5 3-5 2 1 2 7 2-2 3-8 2 4 3-5 1 3 2-2 1 1 2 4 2-2 3 2 1-4 1 0 2 5 2-6 3-3 3 11 6-12 5 7 1 6 3-9 3 5 4-3 2 8 3-11 7 2 1 1 3 8 5-10 3 4 3-2 3 1 5-2 4 7 5-10 2 6 1 0 1-4 3 1 4 11 3-12 2 3 2-2 3-7 2 5 3-8 3-4 3-12 2 11 1-1 2-12 2 1 4-2 5-6 2 2 3-12 2 6 2-4 3 4 2-6 5 0 5 9 2-6 1 8 1 1 2-4 2 2 5 19 2-2 2 0 3 7 3 0 2 3 4 0 5 14 2-5 4 5 1-1 4-6 3 11 1-2 3-10 3 7 2-1 3-8 4 4 2 0 2 11 1 0 2-11 2 2 2 6 3-7 2-1 2 2 2-3 2 0 8 9 1-8 1-1 2 6 5-9 4 12 3-5 5 6 4-9 4 3 3-1 3 5 3-3 3-5 3 5 2-1 4-7 2 9 1 1 2-6 4 3 2-1 3 9 3-9 2 1 1 4 3-9 3 5 2 0 2-3 2 6 2-1 3-7 3-1 2-5 2 12 2 3 2-1 3-1 3-7 6-1 5-10 1-9 6-14 6-10 3 2 2-2 3 7 2 1 4 22 2-7 3 14 3 1 3 7 3-3 3 7 4-7 2 4 3-2 6 3 2-2 3 7 2-5 1 0 2 5 4-2 5 7 3-11 3-1 3-7 3 9 2-3 2 6 2-5 2 6 3-12 3 12 3-6 3 12 3-14 2 8 4-10 3 3 2-4 2 4 3-5 1 7 3-16 2 5 1 0 2-2 4-20 2 6 1 0 3-5 5 5 3-6 2 1 3 8 2-4 4-2 3 1 5-5 2 5 4-3 3 9 2-3 4 16 1 2 2 0 2 6 1 0 2-5 2 10 2-5 5 3 3-2 1 1 2 3 3-5 3 4 2-4 1-2 3 4 2-2 3 10 2-7 1 0 1 8 5-10 3 13 2-6 4 0 5-6 3 7 1-2 3 4 2-3 3 5 2-2 2-9 2-1 3 6 2-4 2 4 4-9 3 17 3-7 3-2 3-9 2 0 3 7 2-2 1 1 1 8 3-6 4-1 3-2 2 8 2-2 2-11 1 0 2 13 4-13 5 0 2 4 3-7 1 1 3-19 2 2 3-6 4-1 3-8 8 13 3 10 3 2 4 7 2 0 2-4 3 19 3-13 2 7 1-5 1 1 2 8 5-9 2 4 1 1 1-2 3 7 2 0 3-11 6 12 5-1 3-4 6 2 5-8 2 12 2 0 2-9 1 0 2 9 4-7 2-6 3 16 2 2 5-15 4 6 3-4 2 8 3-11 1-3 3 6 2-4 1 1 2 5 2-10 2 6 5-4 2 2 4-17 3 13 2-4 3-3 4 13 2-5 3-3 5 12 1-1 1 1 2 6 5-13"/><path d="M2318 904l0-57 2 0 4-3 5 2 2-1 3 2 11-2 3-2 4 3 2-1 3 2 4-1 3-2 4 4 8-3 6 1 5 4 7 16 7 5 2-4 2-7 2 3 1-1 6-20 2-1 3-13 6-19 3-15 2 4 1 0 2-7 3 10 1 2 3 17 2 0 5 28 2 7 2 0 2 10 1 1 2-4 3 3 1 6 3-8 2 1 3 5 4 0 2 4 2-5 1 0 4 13 2-9 5-3 2 7 1-1 2-8 2 8 2-5 3 1 2 1 2-3 3 6 2-9 4 8 3-12 4 19 3-14 2 0 2 7 3 4 2-8 5 7 8-9 3 8 2-7 1 1 2 10 2-8 2 2 3-1 4 4 4-7 3 13 3-9 6 6 3-8 4-1 2 11 5-6 2 0 3-10 2 9 7-9 3 6 2 0 1-5 6 13 4-6 2-6 3 3 2-3 2 4 3 1 4 6 3-8 4 0 2 4 2 0 5-4 3-7 2 11 2-7 2 1 3 4 2-1 2 0 5-12 3 10 2 1 2-6 4 2 1-1 4-7 2 2 2-7 3 9 7-20 2 3 3-13 2 5 4-6 2-4 1-1 2 3 3-6 4 7 2-7 3 4 2-1 3 13 2-5 1 4 3 2 7 11 1 1 1-3 3 16 2 2 5-11 2 14 4 3 3 1 3-9 1 2 2 0 5 3 4 5 5-12 3 10 2-5 1 0 1 7 5-10 2 6 1 1 2-3 1 5 3-10 3 12 2-6 3 3 3-2 3-4 2 1 3 0 4 9 3-10 2-1 2 4 1 0 2-1 4 10 3-9 2 6 3-11 6 10 2-2 3 4 2-5 2-7 2 7 1 0 2-8 3 8 1-1 2 4 1 1 2-2 2 0 3 4 2-13 7 12 2-4 2 4 3-1 2-3 2-8 3 14 2-9 5 12 5-11 1-1 2 2 1-1 2-10 7 10 2-10 2 0 1-2 2-9 2 3 1-2 2-12 1 2 1-1 2-6 7-10 4 13 3-6 3 10 2 0 4 17 2-3 1 2 2 10 4 2 2-2 3 6 3-1 2 2 4-8 3 2 2 4 2-9 2 12 3-4 5 9 3-11 3 10 3-17 2 10 4-6 5 8 5 2 2-5 0-1 2 3 2-3 3 8 4-16 3 8 2 1 2-5 1 0 2 2 2-4 2 9 2-8 1-1 2 5 5-20 2 2 2 5 3-10 2-4 2 1 1-1 1-5 2 3 1-1 2-7 2 1 3 6 2-3 2-5 5 18 3-10 3 1 3-8 3 0 2 3 1-1 3 13 3 3 2 0 3 19 1 2 3-9 2 4 3 2 2 4 4-7 3 7 2-4 3 4 3-1 3-6 2 4 3 0 2 2 2 10 3-12 2 3 3 0 3 6 3-12 2-1 3 0 2 13 2-8 3 7 2-4 7 3 2-1 5-10 4 7 5 1 2 0 3 2 4-6 5 7 4-4 5 1 3-3 3 5 3-6 2 4 3-5 2-1 4 1 3 6 7-13 2 3 3-7 2 1 3-12 3-6 3-10 9 15 2-1 3 4 3 10 3 5 1 1 2-2 5 9 2 2 2-9 3 13 4 7 3-21 2 10 2-5 3 1 4-1 2 6 5-6 5 8 2 0 2 3 3-7 5 6 4-7 5 2 3-3 3 8 3-4 2-6 2 1 2 10 3-5 2-8 5 7 2-6 4-2 3 11 3-2 3-6 3-1 5-12 4-1 2 2 3-7 3 6 3 4 3 11 3-13 2 8 4-7 5 17 3-8 2 3"/><path d="M2305 916l0-59 2-1 3 1 9-1 3 3 2-3 4 0 5 0 2 2 2-3 3 3 2-4 6 3 3-2 5 3 3-2 1 2 5-5 7 5 4 6 3 8 3 2 3 7 3 1 2-7 1-1 2 4 6-9 3-13 6-19 5-8 3-25 3-1 3 2 2 4 6 22 2 14 0 3 2-3 2 9 3 4 5 15 2 1 5 7 8 3 5-12 3 12 1-4 1 1 4 16 3-11 3-1 4 5 7-6 4 6 5-12 3 10 3-7 3 7 2-1 3-15 4 15 3-3 4 0 3-1 4 12 5-11 3 6 4-11 4 8 4-6 3 12 5-5 4-3 3 2 2-3 2 1 3 5 2-2 2 3 3-7 4-2 3 7 1-1 1 1 2 6 2-8 1-1 2 6 4-12 2 2 3 0 3 2 8-8 3 10 2-4 2-1 5 2 2 6 3-9 2 8 4 0 3-6 2 5 1 0 2-5 2 0 4 3 5-7 2 7 2 2 3-2 3 0 3-4 3 8 3-17 2 7 3-4 1 4 3-5 7-22 1 7 1-1 4-15 1-1 2 5 3-7 1 0 2 3 3-10 2 4 1 0 2-4 2 4 2 0 3 0 2-3 3 16 2 0 4-4 5 12 4-1 5 21 5-5 2 9 2-8 5 4 2 6 2 4 3-8 2 2 2-1 5 14 2-16 3 2 2 4 6-4 8 8 3-8 1 3 2 12 1 0 2-13 5 7 2-2 2 2 3-3 2 0 2-4 4 9 3-5 2 3 1-1 2-8 4 11 5-7 2 0 3 8 2-8 5-5 2 0 4 11 5-9 2 5 1 0 2-8 2 10 2 1 3-8 2 3 3-1 1 2 2-1 3 2 3-10 3 7 5-3 3 5 3-3 1 0 5 4 3-3 4-1 2 6 3-11 2-3 2 0 3-10 4 2 2-3 3-11 3-1 1 1 3-11 7-2 2 4 2-2 3 17 4 4 4 11 3-6 3 15 2-5 2 9 2-7 3 10 2-2 3-10 2-2 4 20 3-16 4 7 1 1 1-3 2 4 3-5 5-1 1-2 6 12 2-4 3 0 1-4 5-1 2-5 1 0 3 8 1 0 2-2 3 1 4-5 2 7 5-15 3 1 2-2 4 10 3-16 2 5 3-5 3-2 3-11 2 4 1 0 2-2 3-9 3 5 5-6 3 8 1 0 8-8 3 1 1 4 3-4 4 11 1 0 2-7 2 7 2 0 3 11 2 0 3 6 2 1 1-1 3 5 3 0 2 3 3-5 1 3 2 8 3-12 5 10 1 0 3-11 3 8 4-1 2 5 3-11 2-1 2 10 1 1 2-7 2 11 2-4 8-4 3 1 3 2 3-1 2 3 3-9 1 6 3-4 2 4 5 1 1 4 3-14 3 8 4 3 2-7 3 7 4 0 3-9 2 6 4 3 3-8 4 6 2-4 3-2 2 6 3-9 2-1 4 5 3-13 2 2 1-1 6-11 2-7 1-1 2 5 3-8 1-2 5 8 9 23 2-6 1 1 4 13 2-6 2-1 8 13 2-6 0-1 4 5 3-5 2 7 1 0 2-7 2 12 2-6 2 3 1 0 4-8 2 8 3-10 2 8 2-1 3-7 1 6 1 0 2-8 2 6 1 1 2 0 2 3 2-8 3 5 5 3 3-3 3 3 3-6 4 4 1 0 3-8 3 15 2-9 3-7 2 3 2-4 3 8 5-13 2 3 4-7 5-1 3 5 1 0 2-4 1 1 2 7 3 6 6-9 5 13 3-4 1 1"/><path d="M2293 927l0-61 2 4 9-2 3 2 7-4 8 3 8-2 1 1 3-4 3 5 2-3 6 2 3-3 3 2 6-1 4 0 6 13 2 2 4 8 3 3 4-7 2 2 1-1 2-7 3-1 4-8 2-3 3-18 2-1 3-14 6-20 9 15 8 34 3 13 1 2 2 0 2 8 1 1 2-2 3 7 1 0 2-4 1 0 2 4 2-2 1 1 4 9 2-12 2 6 3 4 2-6 1 0 2 8 1-2 3-8 2 6 1 0 2-6 3 7 3-2 3 3 3-7 2 0 2 4 2-2 2 0 3-5 2 12 1 0 2-9 2 2 2 4 3-1 2 2 2-6 2 9 5-11 5 8 1 0 1 1 2 7 5-15 4 12 3-5 2 5 3-8 2 5 2-7 5 9 4-3 3 1 1-7 1 0 2 8 2-5 1-1 2 4 2-4 2 7 2 1 5-12 3 11 2-5 4 2 3-7 4 10 5-12 3 9 4 0 2-4 2 2 3-5 5 10 1-7 3 15 5-16 2 0 2 4 3-2 2-4 2-11 3 17 2-3 2 1 3-4 2 1 5-9 2 7 2 0 5-15 2 7 1-1 1-9 2-1 1 3 2 11 2-10 3-5 4-17 3 3 2-2 2-9 1-1 1 4 2-8 1 1 2 9 3-11 4 13 0 1 2-4 8-1 3 5 3 9 3-6 6 20 3 2 4 7 3 0 2 4 2-3 3 6 2-3 5 3 1-1 3 7 2-13 1 0 2 12 3-6 3 4 3-9 5 9 7-7 4 6 4 5 5-8 3 5 2-4 7 8 5-17 4 17 2-1 7-11 2 14 1-1 2-14 3 7 4-1 2 3 3-1 2-5 3 11 3-8 3 9 5-14 3 5 3-1 3 2 2-1 3 5 2-5 2-7 3 13 2-4 2 4 2-3 5 3 2-5 1 0 2 4 4-13 3 16 2-8 2 6 1-1 2-7 4-5 3-6 4 5 2-17 2 5 1-1 4-12 1-1 2 0 4-16 3 14 2 2 3-1 2 3 4 19 3-8 4 13 1 2 1-5 2 4 3 2 3 7 3-5 3 10 7-15 7 14 7-7 2 3 3-11 2 4 3 14 6-13 2 3 3 14 4-18 2 2 1-1 2-7 3 8 2 1 2-4 2 8 5 2 3-7 6-7 2 1 1 0 2-4 2 3 2 1 3-12 4-8 1-1 2 2 7-9 4 2 2-1 3 3 2-1 5 8 4-17 3 9 2-7 2-1 3 10 1-1 1 3 2 12 2-7 1-2 2 0 4 23 2-3 3 3 3-2 2 1 1 3 5 4 3-5 2 2 3 0 1 3 3-4 2 3 3-2 9 11 3-4 3-16 3 19 5-7 2-13 1 0 1 13 2 4 5-12 3 20 4-18 3 10 2-4 2 2 1-1 2-5 2 8 2-6 5-1 4 2 3 7 2-5 2 2 1-1 2-5 2 3 5-5 2 4 3-7 4 12 4-10 1-1 2 6 3-7 1 5 5-11 2 7 1 0 2-9 1-1 3-7 2-8 1-2 2 1 2 3 2-11 3 5 4-3 3 9 2-1 0 1 4 13 3 3 2 6 3-7 1 6 1 1 2-2 2 9 1 0 2-6 3 8 1-4 5 4 3-3 3 4 3 1 2 1 3-11 4 8 2-4 1 1 2 5 2 1 5-10 2 4 2 1 3-7 2 12 3-18 2 18 2-4 3 5 2 0 3-7 1-9 3 14 4-4 3 5 4-9 3 11 2-6 5-1 1-2 3 6 3-8 4-1 4-16 1 0 2 3 2 5 3-9 4 11 2-3 3 6 3-4 3 1 3 12 3-3 2 0 2 5 2-5"/><path d="M2280 938l0-60 2-1 3 5 3-3 4 1 4-4 3 3 2-2 2 0 5 6 2-5 3-1 2 4 2-2 3 1 6-3 3 2 2-3 3 4 4-5 2 3 2-1 3 2 3-6 6 17 5 5 3 9 3-3 3 5 3-8 2 1 2-3 7-28 2 0 1-3 2-11 1 1 1-1 4-20 2-3 3 2 2 6 5-6 3 28 2 3 2-1 2 21 5 4 2-1 3 9 1-4 1 0 2 9 2 1 3-1 2 1 2 9 7-7 3 7 2-2 2 0 2-4 3 3 3-4 2 1 1 4 1 1 2-2 2 3 5-7 4 10 3-9 3 3 4-3 2 0 2-2 5 12 1 0 2-6 4 0 3-3 2 2 2-5 2 7 3-3 2 2 2-9 3 11 2 0 5-7 4 4 4 8 3-8 2 0 1-2 2-7 3 6 3-2 3 8 2 1 3-3 2-8 7 12 3-10 2-1 1 8 1 0 2-10 3 9 2-5 3 4 3 1 3-5 5-1 4 7 3-13 2 2 5 13 2-11 2 5 3-1 2-3 4 4 2-7 3 15 3-10 2 6 1-4 3 0 2-2 3 10 4-22 3 10 2-6 5-2 2 1 1-1 6-17 3 0 3 8 3-22 2 2 5 0 2-16 5 7 2 0 5-7 2 4 3 1 4 6 3 10 2-3 7 11 2 1 7 18 2-10 1 0 2 14 2 2 2 0 3 1 4 9 3-16 4 10 2-4 1 1 2 6 2 2 2-8 2-1 1 1 2 5 2-2 3 13 4-18 3 4 4-2 3 12 2-4 2 0 3-6 4 8 2-11 3 4 4-8 3 15 2-1 2-11 2-1 3 4 6-1 3 9 2-8 3-3 4 9 2-2 3 0 2-4 3-2 4 5 3 6 2-5 3 2 3-5 3 0 2-12 3 16 2-1 2 3 2-4 3 0 2-5 3 12 2-13 2 1 3 5 2 0 5-5 2 2 4-2 3 4 4-11 2 0 3 2 3-9 4-10 2-1 5-16 3-2 2 0 1-3 5 10 3 10 4-2 2 12 1 2 2-3 3 12 4-7 4 15 1 0 2-4 2 2 3-3 4 12 5-10 2-2 4 4 3-2 5 5 4-7 2 6 1 0 2-3 3 5 2 0 1-3 3 6 2-2 3 1 3-2 1 1 3-13 2 6 7 11 2-12 2 4 1-1 2-7 5 8 1-3 1-1 2 2 1-2 4-14 2 2 2-9 2 1 1-1 2-4 7-6 2-10 5 17 3-15 3 3 3 5 5 0 4-5 7 10 3-7 1 3 3 17 7 3 3 5 4 2 2-2 3 12 3-9 1 2 2 0 3 10 3-6 2 1 2-4 2 0 2 0 1 2 2 7 3-10 2 4 2-3 4 6 3-14 2 7 1 2 1-1 3 5 2 0 3-6 2 3 2-6 2 2 3 11 2 2 3-12 4 6 4 1 3-10 4 14 3-10 2 4 2-2 3 3 1-1 3 8 2-9 1-1 2 4 3-2 3-6 3 14 2-7 3-6 2-2 2 8 3-7 4-5 3 4 4-7 3-11 2-4 2 3 1-1 3-8 1 0 2 2 5-8 2 2 2 10 5 6 2 8 1 1 2-3 1 3 3 10 3-2 2 3 3 0 1 3 2-7 1 0 2 9 2-6 1-1 2 3 2-4 2 5 5 0 2 7 3-17 2 11 2 1 2 3 3-4 2-6 2 9 3-6 2-2 2 1 5 10 2-8 2-1 3 4 2 1 3-10 2 14 2-4 2 0 3 5 2-4 2 0 2-7 3 11 3-4 2-6 2 7 2 2 2-6 1-1 2 1 1-1 5-10 1-1 2 3 5-10 2 3 2-4 3 5 4-4 3 13 2-14 2 13 5 2 2-1 3 8 2-4 2 3"/><path d="M2268 949l0-57 6 1 3-5 3 3 6 0 2-3 3 5 5-3 2 1 5-3 6 2 3-1 4 2 5-1 2-3 2 3 3-3 5 4 1 0 3-2 5 6 7 18 5-1 2 4 2-9 5-4 5-14 3-6 3-15 3-5 5-21 2-6 2-2 11 30 2-2 5 28 1 2 2-4 1 16 1 2 2-6 3 14 2 1 5-1 1 5 3-7 2 3 3-5 2 8 2 7 2-9 1-2 2 4 2-4 3 14 6-18 3 13 2 2 4-12 3-2 3 12 2-2 3 4 1-3 2 0 1-1 7-14 2 12 2-5 5 4 3-7 2 4 1-3 1 0 2 5 3-2 6 6 5-3 7 3 2-7 3 5 4 0 3-7 1 7 1 0 2-7 2 8 1 0 2-9 4 9 5-7 3 9 4-5 2 2 3 0 8-7 3 7 2-11 1 0 2 11 2-7 1 0 4 11 2-3 3-2 2-5 3 12 1-5 5-6 3 1 2-2 2 5 2 0 5-9 2 5 3 2 1 3 3-13 3 7 2-1 2 7 1 0 3-16 1 0 2 8 2-1 3-11 2 4 4-13 3 9 5-16 6-5 5-7 2 1 5-7 2 3 1 0 2-6 2 9 1 1 1-10 5 12 2-7 1 1 2 11 1-9 1 1 2 12 2-4 3 8 2-3 3 12 1-2 1 2 4 15 1 0 2-6 4 4 2-3 5 14 3-6 2 4 4-2 3 4 2-7 1 0 2 4 2-7 2 6 2-3 1 1 2 4 2 2 2 0 2 1 3-6 7 9 2-2 2 3 3-3 2 2 3-9 2 7 4-3 7-5 3 2 2 3 3-6 4 7 2-9 3 11 4-9 3 4 1 0 3 0 3-2 4 3 3-3 2 9 2-7 2 2 1-2 2-8 4 12 3-5 4 6 7-10 2 0 5 5 3-1 1-4 3 5 2-5 3 7 4-8 3 0 4 2 3 4 2-7 4-7 3-15 2 5 1-1 2-10 4 0 5-13 3 9 1 1 5-1 3 11 2 0 4 10 3 2 2 0 2 7 1 2 2-1 2 8 4-2 3-4 5 11 4-16 3 21 5-11 1-1 3 5 4-7 3 5 2-4 5 7 4-1 3-9 1 0 3 5 2 6 1 1 2-4 2-1 2 7 3-9 2-2 3 6 2-3 2-1 2-11 2 4 3-1 5 5 2-12 4 5 3-15 2 0 1 0 3-9 1-1 2 0 5-9 2 8 2 0 5-3 2 4 1 1 2-2 2 2 4-6 1 1 2 5 2-2 1 1 1 6 5-1 2 1 3 12 2-1 2 7 3-1 4 3 4 11 1 0 2-2 3 4 7-9 2 8 2 1 2-3 1 1 2 8 2-14 1-1 1 13 3-11 4 0 3 5 2-3 2 4 2-5 1 1 2 5 2 1 3-5 1 3 3-4 2 5 1 1 2-4 3 4 3-11 3 12 5 3 4-14 2 7 1 0 2-4 5 6 2-11 2 4 3 12 4-8 2-3 3 3 4-3 3 4 2-5 1 0 1 6 3-8 2-1 5 3 1-3 3 7 3-13 2 3 2 0 3-17 1 3 3-9 2-1 1 1 2 4 3-5 3-2 3 4 3 10 4 2 2 10 2-1 3 4 2 7 3-13 4 12 2-4 1 1 2 7 3-9 1 7 3-1 2 2 5-3 4 5 3-7 4 3 3-4 1 6 1 0 2-7 2 5 3-6 3 9 3-3 5-5 3 8 2 1 4-8 3 2 2 3 3-6 2 5 4-2 1 0 4 10 3-10 1-2 8-2 3-4 1 2 3-7 2 3 3-4 2 4 2-5 5 0 2-4 3 7 2-2 2 5 2-2 3 11 2-1 2-4 2 8 3-4 2 0"/><path d="M2255 960l0-57 5-4 9 6 3-4 4-1 2 1 3-3 5 6 4-4 2 2 5-5 2 4 3-4 4 6 5-4 3 2 2-3 2 3 5-2 11 12 9 16 3-7 4-2 2-3 7-24 1-2 2 0 3-17 1-3 5-18 2 6 3-11 3 12 2 1 3 7 4 22 2 0 2 3 2 12 4 8 1 1 2-2 1 2 2 10 1 3 3 3 8-3 1 2 3 8 2-1 3-10 2 0 2 8 1 0 1-8 2 12 3-18 5 18 2-9 5 4 7-2 2 4 5-6 2 0 3 7 3-10 1-1 2 3 2-3 3 12 2-1 1 1 1 4 2-1 3-7 2 2 3 1 7-8 2 1 2 8 3-12 4 11 3-4 4 5 2-13 3 10 2 0 5-10 4 11 5-9 3 3 2-1 2 5 2-1 3 6 2-4 2 2 1-1 3-9 3 15 7-9 2-6 3 8 2 0 3-8 2 3 4-2 3 6 2-4 3 4 2 0 4-5 3 7 5-8 2 1 2-1 4 4 3-7 2 0 2 14 3-16 2 4 5-15 2 5 2 1 3-9 4-7 1-1 2 5 4-17 5-4 2-4 2 5 3-11 5 6 4-5 2 0 2-2 5 11 3-8 2 11 2 8 2-3 1 1 2 8 5 11 1-6 1 2 2 11 2-2 1 0 6 10 3-3 4-2 6 12 1 1 2-5 1 1 2 9 3-15 2 5 1-1 1 2 2 5 3-3 2 1 2-6 1 0 2 4 2-4 2 0 3 10 4-12 2 7 3-3 2 1 2 4 3-14 2 8 0 2 2-3 2 4 3-7 9 3 3-2 2 3 2 1 3-3 4 15 3-14 4 5 2-1 3 3 2 0 2-4 3-1 2-2 2 3 2-2 3-1 5 10 2-5 2-1 2 1 3-13 3 12 2-4 1 5 1-1 2-5 2 7 3-9 6 9 3-13 2 8 1 0 2-8 2 15 5-21 2-2 2 4 1 0 2-6 4-2 2-5 1-2 2 1 2-3 4-16 1-1 2 1 2 5 3-6 3 6 1 1 5 14 2-1 3 2 2 16 2 2 3-5 7 13 2-8 2 4 5 0 2 3 2-3 2 1 3-2 3 3 2 7 4-5 2-5 3 7 3-8 3 1 3-6 3 10 5-5 2 3 1-2 1 0 2 4 3-6 4 11 2-11 5 8 5-5 2-7 3 2 4-3 3 1 6-13 2 0 1-1 5-15 3 0 3-3 5 8 4-14 3 7 2 0 2-7 3 14 2-8 2 4 2 0 3 8 2-4 3 1 1 10 1 2 2-2 5 11 5-6 1 6 1 2 2-1 5 8 4-5 2 7 1 1 2 0 5 8 4-12 5 3 2-4 3 13 2-13 2 5 5-6 2 8 1 2 1 1 3-6 4 4 3-2 3 2 1-3 2 2 3-9 3 11 2-6 2 2 0-1 2-5 3 11 2-2 2-8 1 0 2 9 4-2 2 2 3-9 2-1 2 7 5 5 2-7 1-1 2 4 2-4 2 12 5-14 2 0 3 14 2-16 9-5 4-11 3 12 5-26 2 2 2-8 2 7 1-1 2-9 5 15 2-8 1-1 1 8 2 3 3 17 3-2 3 0 5 13 3-9 2 6 1 1 2-2 1 4 3 0 2 5 3-8 4 11 3-9 2 2 3-5 2 1 2 8 2-3 5-2 3 5 3-8 5-2 3 3 2 11 1 1 2-8 1 1 3 11 3-20 4 6 4-2 3 3 2-6 3-3 4 9 5-8 3 1 2 4 2-9 4-1 3 2 2-3 1 1 1 6 3-9 11 3 5 7 5 0 2-1 2 1 5 8"/><path d="M2243 971l0-56 2-3 2 3 2-1 3 1 7-3 2 1 5-3 5 4 2-1 4 0 3-3 5-1 4 7 5-5 3 2 4-3 4 3 3-1 2 3 2-4 5 3 7 13 0 1 2-3 3 11 2 1 5-11 7-8 11-28 5-27 4 5 2-1 3 4 2-2 1 2 4 18 2 4 5 20 3 6 2 1 2 12 2 0 3-5 4 3 3 8 6 2 3-8 2 6 1 0 1-5 3 8 4-8 3 10 4-1 2 4 3-5 2 1 3-12 4 19 3-13 2 0 3 4 3-3 3 6 5-3 3-7 2 1 4 12 2-8 1-1 2 4 2-5 1 0 1 4 5-2 2 4 1 2 2-1 2-10 1 0 1 11 3-7 4 0 3-3 2 10 2-8 3 12 2-8 5-4 1 0 3 9 5-4 4 3 3-2 2-7 2-1 3 3 2-3 5 11 7-9 2-1 2 9 2-7 1 0 2 5 3-5 3-3 3 8 3-4 2 0 3 3 3-4 3 9 3-7 2-10 3 8 4 8 5-11 6-2 2 3 3-11 2 8 1 0 2-7 4 3 2-12 1-2 2 1 5-14 4 2 5-9 3-9 1 0 3-5 4 6 4-7 2 1 1 5 2-1 1 1 4 10 1 1 4-3 0 2 5 18 4-6 1 1 2 6 1 0 1 2 2 9 2 2 3 5 2 1 3-3 4 7 2-2 1 1 2 6 2-3 2 5 2 0 5-1 3-11 4 2 3 7 2-4 3 7 3-5 3 8 3-9 2-1 2 10 3 4 2-10 4-1 3 5 3-7 3 5 3-10 3 5 4-5 2 9 2-1 1 1 2 6 5-10 2-7 2 7 2 1 3 7 2-2 3 4 2-3 2-5 2-1 3 5 2-2 3 2 2-7 2 0 3 5 2 0 3 2 1-2 3-10 2 8 2-4 3 1 2-3 4 8 3-8 2 0 3 7 2-7 2 4 2-1 3-9 3 4 4 0 5-10 2-1 2 2 1-2 1-7 2-2 3-7 2-2 1 1 2 4 4-13 3 8 2-1 3-11 4 15 2 3 3 15 2-6 2 1 4 14 1 1 2-7 2 7 3 3 3-2 2 3 1-8 1 0 2 8 3-8 5 13 1-4 3-2 2-5 3 0 2-4 3 14 1-1 2-10 1 0 2 12 5-11 2 11 2-3 2 2 1-1 2-5 5 3 1-3 3 6 5-7 2-5 2 7 3-3 2-5 2 3 3-6 2 2 1 0 1-5 5 3 3-6 4-19 2-2 2 5 1-2 2-12 3 14 2-2 1-7 3 10 3-10 2 3 2-1 3 8 4-11 2 3 3-3 2 4 2 1 5 14 2-1 3 0 4 18 2 2 1-2 2-8 5 14 1-6 1 0 5 12 2-3 2 2 3-2 2 2 4-4 3 4 4-1 2-4 3 7 3-7 2-2 4 10 2-2 1 0 2 6 2-5 1 0 2 2 2-4 2 0 3-3 2 1 3-1 2 2 1-1 3 6 2-7 3-4 2 1 3 11 1-7 3 8 3-10 2 4 4 2 5-4 3 4 2-4 4-2 3 2 2-1 3-10 6 14 2-9 3-3 2 10 1 0 3-16 8-9 3-11 3 1 3-2 2-9 3 12 4-1 5 8 3 0 6 15 5 6 2-4 1 2 2 9 4-2 2 3 3 0 2-7 3 14 2-11 2 7 3-4 6 5 2-5 3 12 9-21 2 7 3 5 6-8 3 8 2-5 1-1 2 2 2-4 3 6 2-1 4 4 3-7 4-4 5 6 5 1 4-9 2 0 3 9 3-12 2-1 2 2 0-1 4-7 3 6 2 1 4-4 3 3 2-5 1 1 4 11 1 1 2-6 2 7 2-4 2 3 3-3"/><path d="M2230 982l0-59 3 1 2-2 5 1 1-1 5 2 3-5 3 8 3 0 3-4 3 1 2-2 3 4 1-2 5 1 3-3 2 2 2-1 2 1 8-1 4 0 2-1 5 1 5 0 2 3 2 8 10 9 1 3 1 0 5-11 7-5 11-43 1-1 1 3 3-10 2 0 2-2 3-5 14 47 2-1 0 2 4 17 1-1 2-8 3 23 2-7 1 1 3-4 7 0 3 6 1 1 3-3 5 11 5-9 1 1 1 1 2 6 3-9 4 10 4-9 3 2 5 6 3-8 1 3 5 3 5 7 4-14 3 3 2 5 3-8 3 9 3-8 2-1 5 10 3-4 1 8 1 0 4-14 1 0 4 8 2-6 2 5 1-1 2-6 2 6 1-1 2-9 3 11 1-2 3 5 2 1 3-7 2 0 2 5 2-6 3 4 2 1 9-8 5 8 3-1 2-4 2 7 2-4 3 0 4-2 4-6 3 3 2-1 3 9 2-7 2-4 2 10 1-1 2-14 5 21 3-17 1 6 3 3 2-1 3-8 4 4 2-7 3 7 7-7 2-9 4 1 3-6 2 2 3-12 4-9 2 0 1-1 2-4 2 3 1-1 3-8 3 4 3-9 4 2 2 3 2-7 6 16 2 2 2-3 0 1 7 15 2-3 3 8 1-1 1 2 4 13 1 0 2-5 5 11 2 1 2 4 3-6 2 5 3-3 3 3 3-2 5 8 3-3 1 3 3-8 2 0 3 5 2-4 2 1 2-3 2 7 1 1 2-3 3 4 2-1 2-7 2 13 5-11 2-1 4 11 1 1 2-1 3-10 2-3 3 3 2 5 1-7 1-1 2 6 3-3 2 3 2-6 1 0 3 13 5-8 3-1 2 3 1 1 1-2 3 3 2-3 5-2 2-5 2 15 3-11 2 0 2 6 1 0 2-5 2 1 2 4 5-13 3 5 3-2 3 5 2-4 1 1 2 6 6-11 3 6 3-2 2-4 3 0 3-8 1 0 2 3 3-12 4-2 2-1 7-19 3 10 2-12 4 11 1 0 2-4 5 11 4 16 2-5 1 0 2 0 9 23 3-10 2 5 2-5 1 1 1 8 2-6 1 0 2 6 5-9 2 8 1 0 1-5 5 8 5-7 3 6 1-2 5 2 5-7 2 5 2-7 3 7 2 1 2-6 3-3 1 7 1 0 2-4 3 6 5-5 2-5 2 7 7-12 2 3 2-2 3-21 4 10 3-14 2 5 2 2 3-18 2 1 3 9 2 1 4-13 2 5 1 1 2 0 2 6 3 4 2-10 2-2 5 7 2-3 3 13 2-4 5 14 2 0 4 4 3 10 4-1 5 2 2 0 5 5 2-5 1 0 2 6 3 0 3 3 3-7 5 3 2-2 2 2 5-8 5 9 2-8 4 12 3-11 2 4 1 0 2-2 2 9 4-2 3-6 3 7 4-7 2 6 3-3 4 7 2-7 2 0 3 6 3-11 4 0 4 9 5-6 7 3 5-6 2 1 3-12 2 6 2-5 2 1 3-4 2-1 2-5 5-1 3-16 2 7 3-6 3 5 3-2 3 9 2-1 3 7 1-1 5 10 2-2 3 5 2-3 0 2 4 13 1 0 2-6 3 1 2 3 4 0 2 4 3-12 3 11 3 3 5-5 3-8 4 10 3 2 2 0 5-9 2 5 1-1 1-7 2-1 5 16 3-13 2 5 4-4 3 8 3-5 2 0 1 3 1-1 2-5 3 3 2 0 3-9 2 5 2-6 2 5 3-5 2 5 5-12 1 10 1 0 2-10 2 2 3-6 4 6 2 6 3-16 3 18 2 0 3 3 3-1 3 8 3-8 2 5"/><path d="M2218 993l0-55 2-3 4-1 3 3 3-4 4-2 2 6 3-2 4 0 3 1 4-5 5 5 5-3 4 2 3-3 5 1 2 1 2-2 4 3 3-2 2 2 3-4 2 1 2 4 2 0 3 2 7 16 4 1 3-4 3 2 2-3 7-20 4-4 2-17 5-13 2 0 3-4 2-7 2 13 3-11 4 15 5 12 2 14 3 4 4 16 1 1 2-4 2 4 9 4 3 10 4-16 2 13 3 6 3-9 3 0 3-3 3 12 2-6 2 0 3-4 2 9 2-3 3 1 6 0 2 6 1 0 2-7 3 0 2 2 2 11 1 1 1-11 5 1 3-10 5 7 1-3 2-10 3 17 3-6 2 4 2-9 2 2 2 4 1 0 2-2 5 10 2-12 2-3 2 7 3 3 2 5 3-17 2 15 4-4 3-7 3 5 3 0 3-3 3 3 4 1 3 4 2-9 2 7 2 3 7-10 3 11 2-1 2-5 3-3 3 7 1 0 3-6 2 1 3 6 2-3 2-8 1 0 1 9 2-8 1 1 2 9 2-11 1-3 2-1 2 10 2 0 2-5 3 7 5-13 2 3 2-1 2 0 3-7 2 5 3-12 1 4 3-1 2 2 8-24 1 7 1 0 2-8 5-1 3-8 1 1 2-8 3 13 2-14 1-1 2 9 2 1 2-10 3 5 2 0 5 11 4 2 7 14 1 1 2-1 6 22 3-8 2 2 3-2 2 10 4 5 3-9 2 6 1 0 2-5 1 4 3 2 2 6 1 1 4-10 1 0 2 6 1-5 1 1 2 9 5-20 6 17 1 1 2-3 2 1 3-4 3 9 4-11 2 2 5-3 2 7 2 3 3-8 5 3 2 3 2-8 2 2 2-2 3 6 3-4 4 6 2-3 2 5 1 0 2-5 5-4 2 8 2 1 2-2 3 5 5-21 2 12 2 3 2 0 1-2 2-9 3 12 2-4 1 0 3 3 3 0 2 4 4-14 2-1 3 7 3-4 6 1 3-7 5 2 4-9 2 2 7-12 3-13 6-3 3-10 2 4 1-1 2-4 7 23 7 6 1 4 1 1 2-1 3 16 2-4 3 9 4-1 7 6 2-9 1-1 1 5 2-4 5 13 5-12 1 0 1 5 2-3 1 0 2 6 3-11 2 4 2-2 1 0 1 5 3-6 4 6 3 1 2-2 2 3 2 1 5-8 3 3 4-9 3 10 2-6 3 3 3-7 3 8 3-17 7-10 1-7 1-1 2 5 5-14 2 2 2 9 3-7 2 0 2 5 5-8 2 4 2-1 3-8 3 10 2 2 4-7 7 16 1 0 2-3 2 5 2 16 2-5 1 2 2 12 3-14 5 15 1 2 2-3 1 1 2 6 3-9 3 10 1-1 4-10 3 10 5-13 4 11 5-6 2 6 1 1 1-3 3 7 4 0 3-11 3 2 3-3 3 5 7-2 2 7 3-4 4-1 3 3 4-4 3 0 4-3 3 1 2-1 2 0 2-3 3 3 2 5 3-13 1 4 1 1 2-1 2 2 5 6 3-7 2 1 2-1 2 5 3-19 3 9 6-18 2 2 5-9 4-4 3-1 5 15 2-11 1 0 3 18 1 0 2-3 5 12 2-8 2 21 3-13 2 6 5 0 2 3 2-1 3 7 4-11 3 18 1-14 1 0 2 13 5-14 2 4 4 6 3-5 3 0 4 5 3-7 4-4 2 2 1 0 2-4 2 1 2 19 3-19 4 10 5-8 2 10 3-3 2-8 2 5 1-1 2-8 6 9 3-10 3 9 4-4 2-16 2-1 3 7 2 0 4-7 3 10 2-10 1 0 2 10 2-4 1 3 2 14 1-7 1-1 2 3 2-8 1 0 4 13 3-12"/><path d="M2205 1005l0-57 5-2 3 2 5-4 4 2 2 3 2-2 3-1 4 2 3-2 7 2 4-4 3 2 2-1 2 2 3-3 4 2 3-2 2 2 5-4 4 4 3-4 4 3 7 16 2-2 1 1 4 7 4-9 3 3 3-7 2 2 4-24 2 5 1-1 2-10 8-19 4-9 5 2 4 6 2 15 3 4 4 15 1 0 2-5 7 31 4-5 5 8 2-7 3 9 7 1 2-5 7 7 2-1 3-8 2 7 0 1 2-3 3 8 2-7 5-3 2 3 2 0 2 1 5-7 4 11 3-5 3 2 2-2 2-1 4 5 3-3 2 6 1 0 2-6 2 4 1 0 2-4 4 3 2 3 3-5 3 3 6-6 2 7 1 0 2-7 2-2 2 1 5 5 2-6 5 11 2-6 2-1 3 6 2 1 3-14 2 6 1 1 1-2 5 10 5-13 4 14 3-7 4-1 3 4 2-2 2 0 2-5 1 0 2 2 2-3 3 4 2 9 2-1 3-12 4-1 5 10 7-14 3 7 3 0 3-10 2 0 3 9 3-14 2 5 1 0 3-3 5-24 2-4 3 12 6-17 2 0 3 2 2-7 2-1 3 3 3-9 2 6 2 1 2-13 3 4 2 0 3 9 5 8 1 7 2-4 1 0 7 22 4-8 8 18 4 0 2 3 2-2 5 14 3 2 2-5 2 2 3-9 2-1 2 4 1 0 2-1 1 1 3 0 3 3 2 0 2-5 1 0 2 5 1-1 3-5 3 2 2 5 2-3 1 1 2 4 2-5 2 0 3 1 4-1 3 12 4-11 5 4 4-11 3 9 2 1 3 0 2 2 2-5 1-1 1 5 3-8 4 1 3-1 4 12 5-11 3 9 2-1 3-9 1 2 2-3 5 4 5-3 2 3 3 1 2-2 2 2 3-12 2 14 2 2 2-1 1-2 2-9 3 5 2-3 2 0 2-3 2 4 1-1 2-7 2 0 1-2 2-9 2-1 2 3 7-22 3-3 1 1 3-7 3 14 2-5 5 8 1-2 1 0 7 15 5 3 1 8 1 1 2-4 2 9 1 0 2-8 3 14 1-3 3 3 4-7 3 8 3-10 6 10 2-5 3 15 4-16 2 3 3-10 3 14 2 3 6-13 3 14 5-13 2 8 2-1 2 2 3-8 7-1 2-4 2 3 1-1 7-11 4-1 2-5 1 0 2 5 2-3 3-19 4 6 7-8 3 3 1-6 3 11 2-16 1-1 2 14 3-11 4 13 5-5 2 0 3 6 3 4 3 10 3-3 2-5 3 17 1 4 3-5 2-1 3 5 2 7 4-1 3 2 5-4 6 6 2-6 3 11 3-13 6 12 3-11 4 3 3-4 2 15 2-7 5 4 5-5 2 0 4 7 3-8 3-1 2-5 6 13 3-16 3 14 3-5 3 0 2-3 3 10 5-6 2 6 5-11 2 3 5 3 4-5 2 3 3-10 2 6 1-2 2-11 4 9 5-18 2 1 1-3 1-12 2 0 3-5 2 3 3 0 3 9 1-5 2 9 3 4 2 8 1 1 2-2 2 2 4 11 1 0 2-5 3 3 2 5 3-3 1 0 2 8 1 1 2-3 3 8 4-8 2 5 3-5 2 0 3 9 4-13 2 6 3 0 4 6 3 1 2-17 2 11 3 2 2-3 2 7 3-13 1-1 3 10 2-3 3 4 2-6 1-1 2 6 4-10 7 11 3 0 2-13 4 3 3-7 4 6 3-5 4-3 3-12 3 8 8 8 3 6 2-4 1 1 3 7 3-2 2 5 3-13 3 4 1 9"/><path d="M2193 1016l0-60 5 2 2-1 2 1 10-1 4 2 3-2 5 2 6-3 7 0 4 1 3-2 3 2 8-3 3 3 5-3 3 3 3-2 14 21 2 1 3-2 3-6 2 4 1-1 3-15 1-2 2 0 7-22 4-6 3-20 2 8 1 0 2-9 3 15 1-4 2 4 1 0 2-3 2 5 6 28 4 10 2 3 2 1 3 8 2 1 2-5 2 1 3 17 5-5 2-5 2 6 3-8 2 6 2-4 1 2 2 8 4-8 2 2 3 11 3-7 4-3 2 5 3-9 2 5 3-4 2 3 4 4 2 3 3-8 5-1 4 9 3-3 4-1 3-5 2 8 5-7 2 0 2-5 5 11 2 2 5-5 3 0 4 3 7-5 6 7 3-11 3 7 4 0 3-5 2 5 2-1 3 1 2-3 3 6 4-8 2-1 5 4 3-5 2 3 1-3 3 11 2 0 1-2 2-7 3 5 3 2 3-10 2 9 1 1 2-5 3 6 4-16 2-1 3 13 2 1 3-10 2 8 1 2 3-10 3 4 2 0 3-12 2 4 1-1 3-9 3-4 2-8 2 0 2-10 2-1 3-7 5 1 3-4 1-1 3 5 2-3 2-8 3 11 3-6 1 3 2-3 1 1 2 5 2-3 1 0 6 14 2 8 1 0 2-5 3 10 6 2 3 5 2-1 3 14 2-6 2-1 4 12 1 1 2-5 2 4 3 3 3-6 4 9 2-2 2-9 1 1 2 10 2-6 1 0 1 1 2-3 5 8 3-1 2 2 2-16 2 9 3 4 3-6 4 5 2-3 3 1 4-5 3 9 4-1 3-5 2 3 5-3 2 6 5-7 4 2 3 4 4 3 5-4 2 5 3-10 1 7 1 1 4-5 5 9 3-11 4 5 3-6 2 1 2 6 1 1 2-3 1 5 1 0 4-11 3 8 2-6 1 1 2 7 6-15 3 3 5-8 2 14 2-4 3-20 2-5 2 3 3-1 14-22 3 0 3 3 3 11 2-5 3 21 2-7 4 8 1 1 2-6 2 13 2 6 7-3 3 4 2-1 1 1 1 5 2 0 3-3 2 5 1 1 2-6 2 3 2-5 3 8 2-2 5-1 3 2 1-2 2 4 3-8 2 0 7 6 3 0 2-3 5 4 3-6 6 2 2-4 3 1 9-15 2 3 3-11 2 5 1 0 6-25 3 7 4-2 2 2 3-5 4 2 3-8 2 7 0-1 2-9 2 3 3 2 3 6 2 0 2 6 2-6 3 5 2 0 3 8 2-1 4 19 2-7 1-1 2 0 3 18 2-14 1 7 1 2 2 1 3 7 2-1 2-5 1 0 2 5 2-2 2 1 3-8 5 13 2-3 4 4 5-10 2 3 1 1 2-2 4 5 3-2 2 0 3-8 2 0 1 5 1 1 2-1 3 10 4-15 3 11 1-5 3-3 3 7 4 0 3-6 1 3 1-1 2-5 2 1 3 6 2-10 1 1 2 10 2 0 2-1 3 2 4-3 3-5 2 9 9-12 1 0 1 2 2-9 1-2 2 5 8-17 1 0 5-3 5-8 2 2 2 0 3 9 4-6 3 1 4 23 2-11 1-1 2 10 2-8 1 2 2 12 2-3 1 1 1 6 3-6 2 1 2 9 1 0 4-13 4 16 3-5 5 8 2-1 2-6 2 6 1-1 2-9 5 6 2-6 1 1 1 8 2-5 1 0 2 7 5-9 2 5 7-9 3 2 6 11 2-11 1-3 2-1 3 15 2-11 2 2 2-3 5 2 5-3 2-6 2 4 2-1 3-7 7-1 2-6 7 9 3-2 2 12 2-3 3 2 2-2 2 3 3-10 1 6 3 5"/><path d="M2180 1027l0-57 8-4 2 2 3-1 1 3 3-2 4 2 3-8 3 6 1 0 7 1 3-3 3 2 3-1 3 2 3-2 6 1 7-2 3 2 3-2 1 2 7-2 3 6 6 5 3 8 2-2 1 1 2 8 3-8 4-6 4-10 1-1 2 2 4-20 3 0 2 3 3-12 6-16 2 4 1-1 2-10 5 24 3 1 1-2 5 24 2-3 3 11 2-6 2 15 3-1 5 9 2 0 3-3 4 6 5-6 4 5 2 2 3 7 2-6 2 2 3-5 2 5 1 1 1-4 2 5 3-7 3 7 4-5 2 4 7-9 3 16 4-11 2-1 1 1 2 5 3-2 2 1 2-9 1 0 1 9 5 6 2-1 3-12 2 6 1-1 1-8 2 5 3 2 7-2 2 8 8-4 5 5 1-2 3-12 2-1 3 12 2-4 4 5 2-5 1-1 2 3 3-7 4 7 2 11 2-9 3-6 2 5 1 0 2-6 2 1 2 11 3-8 4-3 7 4 5-2 2 4 3-7 2 3 2-3 3 3 2-3 2 0 3-4 3 1 1-3 3 4 4-2 3 2 4-16 3-1 2 3 5-14 2 4 1-1 1-9 5-10 2 0 3 5 2-1 2-21 2 7 1 0 2-7 2-1 5 9 2-9 3 8 2 0 6 4 3 16 2 3 3-2 3 5 2 0 4 12 3-5 7 11 3 10 1-1 2 1 3 6 2 0 3-4 2 5 1 0 1-6 7 5 3-4 4 2 2 5 3 4 3-14 2 10 2-1 1 1 1 5 3-5 2 0 2-5 3 14 4-10 5 2 2-2 3 5 4-12 5 8 3-8 5 10 4-2 4-7 3 7 4-3 3 5 7-10 2 11 1 0 1-9 2 4 1-1 2-6 2 3 1-1 2-5 3 8 6 7 3-9 5-1 1 1 3 7 2-4 5-3 4-7 5 13 2-5 1 0 2 2 2-7 2-2 3-10 2-1 3-11 2-3 2 2 2-10 3-1 4-9 3 8 4-10 2 10 1 2 2-1 2 4 6 16 1 1 2 4 3-5 3 7 2 1 2 8 1 1 1-4 2 2 3-2 3 8 2-5 4-3 3 12 4 2 3-10 4 3 2 4 3-8 2-1 3 7 3-1 1-5 3 3 2-3 3 7 2-3 4 4 5-2 3-4 2 3 3-2 3 3 3-13 2 7 1-1 2-11 3 4 1 9 3-11 5-10 4-3 2-13 2 3 3-7 3 5 2-1 3-9 3 9 5-8 5 6 2-5 2-1 3 6 5 4 2-9 2 14 2-4 3 11 2 1 3 15 3-6 11 18 3-5 1 4 3-1 7 4 2-9 1 1 1 10 5-3 2 3 3 1 3-8 1-1 2 3 3-13 2 9 1 2 2-2 2 8 1 0 1-7 2-2 3 9 2-8 1 0 2 10 2 1 2-5 2 3 1-1 2-5 2 6 1 1 2-4 2 7 1 0 3-11 3 5 5-6 3 10 1 0 2-5 3-2 5 5 2-8 1 0 1 9 7-10 3 4 2 0 2-14 3 9 2-7 2 1 3-1 6-12 3 8 3-15 2-3 3 1 1-3 3-12 9 18 1 0 1-3 3 12 2 4 2-2 1 1 2 9 2 1 1-1 1-6 3 15 2-4 5 1 3 7 1-3 2 0 1-1 2-8 5 12 3-6 4 4 4 1 3 6 4-11 5-4 2 8 1 1 2-4 2 11 1 1 1-8 2 4 1-1 2-7 3 10 2-2 2 0 2-7 2-1 3 7 3-11 2 5 2 4 1-1 1-4 3 0 2-4 2 1 3-9 4 10 3-8 2-1 3 5 4-3 2 7 2-12 1-2 2 3 2-5 3 7 4-3 3 1 4 10 3-11 3 7 3-1 3 2"/><path d="M2168 1038l0-59 5 0 2 2 5-1 2 1 5-5 11 5 3-3 3 3 1-3 3 1 2-1 5 0 4 3 5-4 5-1 3 3 4-2 2 1 3-4 4 5 4-2 3 11 2 0 1 2 2 6 2-4 2 7 5 1 3-6 2 3 4-28 3 3 4-5 3-13 4-5 3-14 4 6 3-9 3 10 1 1 3 6 2 1 5 19 2 0 3 11 2 2 2-2 3 16 2 2 3 1 2 2 1-5 3 12 3-15 5 12 2-2 2 2 2-3 7 0 3-5 2 9 2-3 3 4 4-2 3 1 1-1 3 5 3-2 5 3 6-4 3 5 2-4 2 3 3-1 4-8 5 7 2 0 3-8 1 10 1 1 2-10 3 11 4-6 3 1 2-7 4 6 3-4 5 7 2-6 2-4 2 1 3 11 2-11 1-1 2 9 6-12 3 17 3-5 2-8 4 7 2 9 3-13 2 3 3 11 2-19 2 18 3-9 7-6 4 7 2-2 1 1 2 6 3-7 2-11 3 11 4-11 4 6 3-3 4 5 2-8 1-1 2 2 2-7 1 0 2 5 3-4 1-4 7-5 7-24 5 8 5-24 3 9 1 0 2-5 1 2 2 8 3-13 2-1 2 5 1 0 1-7 5 15 7-8 1 1 6 21 3 3 2-1 3 10 3 1 3 11 2 1 3-2 7 10 2-1 3-7 2 2 3 13 2-6 4 1 3 6 2-5 3 0 2 3 1-3 3 11 5-11 2-1 5 3 5-6 2 1 5 6 2-6 2 2 2-1 5 7 3-4 1 2 1 0 2-7 2 1 1 3 2 11 3-13 2-2 1 1 3 7 2 1 3-8 2 0 5 10 2 1 2-6 1-1 2 4 2-1 5-7 2 13 5-15 3 6 2 1 2-3 2 7 2 0 6-12 4 5 2-4 3 6 4 4 5-12 7 0 3-9 4 4 2-15 2 4 1-1 7-18 2 0 2-8 5 4 2 0 3-4 3 8 1-3 5 16 3 4 2 1 2-4 1 1 6 19 2-8 1 1 2 9 3 1 1 2 3-5 4 7 3-1 3 5 1 1 2-3 3 11 3-18 2-3 2 11 1 2 1-4 2 5 3-6 5-3 3 9 2-3 2 0 2-2 2-9 1 0 2 9 2-1 3 2 4-15 3 5 2-2 2 8 1 0 2-9 1 3 1-1 2-6 5-3 2 6 1-1 2-9 2-2 7-16 3 7 6-14 3 2 4-2 3-4 1 4 1 1 2-2 5 13 5-12 1 11 1 0 2-7 8 15 2 1 1-1 1 1 7 14 5-2 6 15 3-4 5 9 2-8 5 11 5-14 4 13 2-1 3-8 7 5 4-8 7 12 5-11 4 10 1 0 4-9 3 8 3-6 3-4 3 14 2 1 1-2 2-8 2-1 2 4 2-1 3 1 2-5 3 13 2-9 1-1 1 6 2-3 3 3 5-8 2 0 2-9 3 6 2-3 5-3 2-7 1-1 1 3 5-5 5-8 3-7 1 1 5-4 2-3 3 5 2-4 1 1 1 7 5-4 7 22 1 1 1-5 3 6 2-1 3 8 4-6 1 1 6 15 5-8 3 3 2 6 6 0 5-5 3-8 1 7 1 0 2-4 2 11 1 0 2-12 5 5 1-1 3 1 3-5 5 15 2 0 2-14 2 6 2-5 1 0 2 6 2 1 5-5 2 0 2 3 3-6 2-1 3 6 2 0 2 2 3-10 2-2 3 1 11-11 3 1 2-1 2 9 2-5 2 2 3 9 3-1 2-3 4 10 2-1 3-9"/></g>
<path d="M226.6 98.4L230.6 90.6L236.6 84.6L241.6 79.8L250.4 72.2L257.4 66L263.6 65.6L238 99.8Z" fill="#fff" fill-opacity=".42"/>
<path d="M216.8 97.6L218.6 95.6L222.1 90L229.2 84L236.2 79.3L246.2 71.7L252.7 65.5L256.2 65.2L257.4 66L250 71.7L241.2 79.3L236.2 84L230.4 90L228.2 96L226.2 97.4L216.8 98.8Z"/>
<g stroke="#000" stroke-width="0.6" fill="none"><path d="M17.8 34.2V103.3H131"/><path d="M16.2 103.4h1.6M17.8 98.5h0.9M16.2 93.5h1.6M17.8 88.5h0.9M16.2 83.6h1.6M17.8 78.7h0.9M16.2 73.7h1.6M17.8 68.8h0.9M16.2 63.8h1.6M17.8 58.9h0.9M16.2 53.9h1.6M17.8 49.0h0.9M16.2 44.0h1.6M17.8 39.0h0.9M16.2 34.1h1.6M18.4 103.3v1.7M74.2 103.3v1.7M129.8 103.3v1.7"/></g>
<g font-weight="bold"><text x="15.5" y="104.6" font-size="3.4" text-anchor="end">0</text><text x="15.5" y="94.7" font-size="3.4" text-anchor="end">1000</text><text x="15.5" y="84.8" font-size="3.4" text-anchor="end">2000</text><text x="15.5" y="74.9" font-size="3.4" text-anchor="end">3000</text><text x="15.5" y="65" font-size="3.4" text-anchor="end">4000</text><text x="15.5" y="55.1" font-size="3.4" text-anchor="end">5000</text><text x="15.5" y="45.2" font-size="3.4" text-anchor="end">6000</text><text x="15.5" y="35.3" font-size="3.4" text-anchor="end">7000</text><text x="18.2" y="109.3" font-size="3.3" text-anchor="middle">20</text><text x="73.9" y="109.3" font-size="3.3" text-anchor="middle">25</text><text x="129.6" y="109.3" font-size="3.3" text-anchor="middle">30</text><text x="73.7" y="119.3" font-size="3.8" text-anchor="middle">2θ (degree)</text><text x="3.6" y="68.1" font-size="4.0" text-anchor="middle" transform="rotate(-90 3.6 68.1)" dy="1.2">Intensity</text><text x="9.3" y="7.6" font-size="8.0">a)</text><text x="73.8" y="10.6" font-size="7.2">TiO<tspan font-size="4.5" dy="1.6">2</tspan></text><text x="140.8" y="37.1" font-size="4.05">A-Anatase</text><text x="140.8" y="41.9" font-size="3.95" fill="#f01818">R-Rutile</text><text x="134.3" y="9.4" font-size="3.6" fill="#f01818" text-anchor="middle">R</text><text x="135.5" y="16.5" font-size="3.8" fill="#f01818" text-anchor="middle" transform="rotate(-90 135.5 16.5)">(110)</text><text x="111.3" y="54" font-size="3.6" text-anchor="middle">A</text><text x="112.6" y="61.4" font-size="3.8" text-anchor="middle" transform="rotate(-90 112.6 61.4)">(101)</text><text x="169.5" y="72.1" font-size="5.1">1000°C</text><text x="137.2" y="109.5" font-size="5.2">400°C</text><text x="158.8" y="89.9" font-size="5.1" fill="#f01818">At 660°C rutile</text><text x="158.8" y="95.8" font-size="5.1" fill="#f01818">formation starts</text></g>
<path d="M132.6 104.6L165.2 72" stroke="#000" stroke-width="1.1"/><path d="M167.8 69.3L162.6 71.4L165.6 74.4Z"/>
<g stroke="#000" stroke-width="0.6" fill="none"><path d="M216.2 35.6V103.3H334"/><path d="M214.8 102.8h1.4M214.8 93.8h1.4M214.8 84.8h1.4M214.8 75.8h1.4M214.8 66.8h1.4M214.8 57.8h1.4M214.8 48.8h1.4M214.8 39.8h1.4M216.6 103.3v1.7M228.1 103.3v1M239.7 103.3v1.7M251.2 103.3v1M262.8 103.3v1.7M274.3 103.3v1M285.8 103.3v1.7M297.4 103.3v1M308.9 103.3v1.7M320.5 103.3v1M332.0 103.3v1.7"/></g>
<g font-weight="bold"><text x="213.3" y="104.1" font-size="3.75" text-anchor="end">0</text><text x="213.3" y="95.1" font-size="3.75" text-anchor="end">200</text><text x="213.3" y="86.1" font-size="3.75" text-anchor="end">400</text><text x="213.3" y="77.1" font-size="3.75" text-anchor="end">600</text><text x="213.3" y="68.1" font-size="3.75" text-anchor="end">800</text><text x="213.3" y="59.1" font-size="3.75" text-anchor="end">1000</text><text x="213.3" y="50.1" font-size="3.75" text-anchor="end">1200</text><text x="213.3" y="41.1" font-size="3.75" text-anchor="end">1400</text><text x="216.6" y="110" font-size="3.5" text-anchor="middle">20</text><text x="239.7" y="110" font-size="3.5" text-anchor="middle">30</text><text x="262.8" y="110" font-size="3.5" text-anchor="middle">40</text><text x="285.8" y="110" font-size="3.5" text-anchor="middle">50</text><text x="308.9" y="110" font-size="3.5" text-anchor="middle">60</text><text x="332" y="110" font-size="3.5" text-anchor="middle">70</text><text x="274" y="118.6" font-size="3.8" text-anchor="middle">2θ (degree)</text><text x="201.6" y="68.5" font-size="4.0" text-anchor="middle" transform="rotate(-90 201.6 68.5)" dy="1.2">Intensity</text><text x="201" y="7.6" font-size="7.6">b)</text><text x="267.5" y="8.1" font-size="7.1">SiO<tspan font-size="4.5" dy="1.5">2</tspan><tspan dy="-1.5">@TiO</tspan><tspan font-size="4.5" dy="1.5">2</tspan></text><text x="336" y="18.4" font-size="4.0">A-Anatase</text><text x="264.3" y="32.6" font-size="3.9" text-anchor="middle">A</text><text x="293.1" y="44.8" font-size="3.9" text-anchor="middle">A</text><text x="318.2" y="44.1" font-size="3.9" text-anchor="middle">A</text><text x="331.2" y="44.1" font-size="3.9" text-anchor="middle">A</text><text x="351" y="45.5" font-size="3.9" text-anchor="middle">A</text><text x="265.3" y="42.6" font-size="4.2" text-anchor="middle" transform="rotate(-90 265.3 42.6)">(101)</text><text x="287.2" y="54.8" font-size="4.2" text-anchor="middle" transform="rotate(-90 287.2 54.8)">(103)</text><text x="293.2" y="54.8" font-size="4.2" text-anchor="middle" transform="rotate(-90 293.2 54.8)">(004)</text><text x="299.2" y="54.8" font-size="4.2" text-anchor="middle" transform="rotate(-90 299.2 54.8)">(112)</text><text x="318" y="54.1" font-size="4.2" text-anchor="middle" transform="rotate(-90 318 54.1)">(200)</text><text x="328.4" y="54.1" font-size="4.2" text-anchor="middle" transform="rotate(-90 328.4 54.1)">(105)</text><text x="334.2" y="54.1" font-size="4.2" text-anchor="middle" transform="rotate(-90 334.2 54.1)">(211)</text><text x="351" y="55.5" font-size="4.2" text-anchor="middle" transform="rotate(-90 351 55.5)">(204)</text><text x="372.2" y="70.3" font-size="5.0">1000°C</text><text x="340" y="109.6" font-size="5.2">400°C</text></g>
<path d="M336.2 101.8L368.6 71.9" stroke="#000" stroke-width="1.1"/><path d="M371.4 69.2L366.1 71L369.1 74.2Z"/>
<g transform="scale(.1)" fill="none" stroke-linejoin="round"><path d="M306 1662l169 0 14-2 4-1 2-2 1-4 1-8 1-29 3-283 4 302 1 15 1 4 2 4 4 2 8 1 18 1 151 0 23-1 5 0 3-2 2-2 1-3 1-11 3-164 3 164 2 13 1 3 3 1 6 1 14 1 38 0 9-1 1-1 1-3 3-23 3 23 1 3 1 1 8 1 24 0 8-1 3-1 2-3 1-8 2-80 1 0 3 80 1 10 3 2 7 1 16 0 30 0 8-1 2-2 1-5 2-23 3 27 1 2 3 2 221 0 22-1 9-1 3-2 2-5 2-20 3-247 3 247 1 20 2 4 2 2 7 2 16 1 18-1 4 0 2-1 1-3 1-9 3-61 3 67 2 6 3 1 10 1 37 0 86 0 14-1 2-1 1-4 3-33 3 33 1 4 2 1 18 1 4-1 2-1 2-6 2-23 3 27 1 2 2 1 12 1 68 0 35-1 4-2 2-6 3-81 2 74 2 12 2 2 4 1 5 0 2-2 2-11 2-31 2 37 1 5 2 2" stroke="#3448f4" stroke-width="10.0"/><path d="M306 1975l130 0 5-1 4-4 4 4 2 1 25 0 13-1 4-2 2-2 1-3 1-6 1-24 3-236 4 252 1 12 1 4 2 3 4 2 8 0 17 1 148 0 27 0 8-2 3-4 1-8 3-121 3 121 2 10 1 2 3 1 18 1 49-1 2-2 3-13 3 13 2 2 33 1 10-2 2-1 1-6 2-56 1 0 3 56 1 7 3 1 17 1 44 0 2-1 1-3 2-11 3 13 2 1 3 1 221 0 21 0 9-1 3-2 2-3 2-14 3-169 3 169 1 14 2 3 2 1 7 1 18 1 17 0 5-2 1-2 1-6 3-46 3 50 2 4 3 1 35 1 112 0 2-1 1-2 3-21 3 21 1 2 2 0 18 1 6-1 2-4 2-15 3 17 1 2 2 1 83 0 32-1 4-1 2-4 3-54 2 49 2 8 2 2 5 0 5 0 1-2 2-9 2-26 2 31 1 5 2 1" stroke="#f0202e" stroke-width="10.0"/><path d="M306 2169l106 0 15-1 6-2 2-2 1-3 3-11 4-63 2-11 1 11 4 53 3 19 1 5 2 2 4 1 6 1 29 0 2-2 4-7 1 1 4 8 5 1 244 0 5-1 3-1 7-9 2-1 2 1 7 9 3 1 5 1 231 0 8-1 3-1 3-4 5-10 2-2 2 2 4 10 3 3 4 2 7 1 119 0 6-2 6-7 2-1 2 1 7 7 4 1 5 0 6-2 6-6 2-1 2 1 6 7 7 2 166 0 6-1 3-1 7-7 2-1 2 1 6 7 7 2 130 0 6-1 9-5 10 5 21 1" stroke="#5ee22a" stroke-width="12.0"/><path d="M306 2272l85-1 16-1 8-2 6-3 4-6 5-10 10-24 2-4 3-2 2 1 3 4 11 29 7 11 4 3 5 2 16 2 104 1 130-1 10-1 8-2 8-3 15-8 7-2 7 2 22 11 8 2 9 1 58 1 111-1 13-1 9-2 8-3 13-9 7-2 6 2 17 10 10 4 16 1 36 0 19-1 16-3 13-3 25-10 12-2 12 2 25 9 12 4 13 2 15 2 55 0 41 0 13-3 21-8 8-1 7 1 22 9 15 2 147 1" stroke="#222" stroke-width="13.0"/></g><path d="M30.4 232H162.8M30.6 232v2.2M43.7 232v1.2M56.8 232v2.2M69.9 232v1.2M83.0 232v2.2M96.1 232v1.2M109.2 232v2.2M122.3 232v1.2M135.4 232v2.2M148.5 232v1.2M161.6 232v2.2" stroke="#000" stroke-width="0.6" fill="none"/>
<g font-weight="bold"><text x="31" y="238.4" font-size="4.3" text-anchor="middle">20</text><text x="57.2" y="238.4" font-size="4.3" text-anchor="middle">30</text><text x="83.4" y="238.4" font-size="4.3" text-anchor="middle">40</text><text x="109.6" y="238.4" font-size="4.3" text-anchor="middle">50</text><text x="135.8" y="238.4" font-size="4.3" text-anchor="middle">60</text><text x="162" y="238.4" font-size="4.3" text-anchor="middle">70</text><text x="98.4" y="243.8" font-size="4.8" text-anchor="middle">2θ (degree)</text><text x="23.6" y="183.9" font-size="4.9" text-anchor="middle" transform="rotate(-90 23.6 183.9)" dy="1.6">Intensity</text><text x="8.7" y="142.7" font-size="7.5">c)</text><text x="146.9" y="132" font-size="5.25">A-Anatase</text><text x="146.9" y="138.5" font-size="5.25" fill="#f01818">R-Rutile</text><text x="168" y="166.1" font-size="4.7">1000°C</text><text x="168.9" y="198.5" font-size="4.8">800°C</text><text x="169.1" y="219" font-size="4.8">600°C</text><text x="164.3" y="228.7" font-size="4.4">uncalcined</text><text x="22.6" y="228.7" font-size="4.6">x3</text><text x="51" y="128.8" font-size="4.8" fill="#f01818" text-anchor="middle">R</text><text x="73.3" y="144.3" font-size="4.8" fill="#f01818" text-anchor="middle">R</text><text x="86.8" y="152.3" font-size="4.8" fill="#f01818" text-anchor="middle">R</text><text x="81.7" y="159.2" font-size="4.8" fill="#f01818" text-anchor="middle">R</text><text x="93.2" y="159.2" font-size="4.8" fill="#f01818" text-anchor="middle">R</text><text x="120.9" y="135.1" font-size="4.8" fill="#f01818" text-anchor="middle">R</text><text x="126.9" y="155.8" font-size="4.8" fill="#f01818" text-anchor="middle">R</text><text x="141.5" y="158" font-size="4.8" fill="#f01818" text-anchor="middle">R</text><text x="148.2" y="158.4" font-size="4.8" fill="#f01818" text-anchor="middle">R</text><text x="160" y="152.2" font-size="4.8" fill="#f01818" text-anchor="middle">R</text><text x="45" y="205" font-size="4.8" text-anchor="middle">A</text><text x="50.7" y="213.2" font-size="4.8" fill="#f01818" text-anchor="middle">R</text><text x="73.5" y="214.5" font-size="4.8" fill="#f01818" text-anchor="middle">R</text><text x="78.2" y="214.2" font-size="4.8" text-anchor="middle">A</text><text x="87.5" y="214.2" font-size="4.8" fill="#f01818" text-anchor="middle">R</text><text x="104.6" y="210.9" font-size="4.8" text-anchor="middle">A</text><text x="119.4" y="212.5" font-size="4.8" text-anchor="middle">A</text><text x="124.2" y="212.3" font-size="4.8" fill="#f01818" text-anchor="middle">R</text><text x="143.2" y="213" font-size="4.8" text-anchor="middle">A</text><text x="159" y="214.2" font-size="4.8" text-anchor="middle">A</text></g>
<g transform="scale(.1)" fill="none" stroke-linejoin="round"><path d="M2265 1772l25-3 21-1 60 2 5-1 4-2 3-3 2-3 3-14 3-36 6-209 1-27 2 27 4 185 3 58 2 15 4 9 6 5 9 4 12 3 16 2 44 2 110 1 69-1 3-1 3-1 5-9 2-1 1 1 6 8 2 0 2-1 3-8 4-26 2-4 1 4 5 28 2 5 3 2 3-2 4-9 2-1 1 2 6 11 3 2 5 0 144 1 56-1 9-3 2-2 2-4 3-14 4-36 1-5 1-1 2 6 5 39 2 11 2 4 2 2 9 3 24 1 56 0 21-1 10-2 3-3 3-6 6-35 2-7 2 7 6 35 2 5 2 2 2 1 3-1 2-1 3-6 6-35 2-7 2 4 4 29 3 12 4 5 7 2 23 2 64 0 50 0 17-2 5-2 3-4 2-7 5-18 2-3 2 3 4 18 3 7 3 4 5 2 12 1 26 1 82-1 4-1 3-2 7-12 2-2 2 2 6 11 3 3 5 1 7 0 4-1 3-2" stroke="#3448f4" stroke-width="12.5"/><path d="M2265 1913l17 0 18 2 58 9 8-1 6-2 5-7 4-14 4-20 9-57 2-8 2-3 2 4 2 9 8 58 4 23 4 16 4 9 6 6 11 5 18 5 24 4 36 4 43 2 68 0 46-1 10-1 7-3 6-5 12-12 3-2 2 0 3 0 3 2 11 12 6 5 6 3 8 1 19 1 39 1 111-1 14-1 9-3 7-5 13-13 5-2 2 0 3 2 12 12 7 5 8 3 12 1 40 1 25-2 17-5 27-10 10-2 11 2 22 9 12 4 12 2 15 1 55 1 41 0 13-3 18-8 7-1 6 1 19 8 15 3 36 1 107 0" stroke="#f0202e" stroke-width="12.5"/><path d="M2265 2077l31 1 54 5 9-1 6-2 6-6 5-10 6-18 11-42 3-7 2-2 3 3 3 9 10 45 5 18 5 13 6 8 8 6 13 5 24 5 30 4 36 3 39 2 51 1 36-1 11-1 8-2 8-4 13-9 7-2 7 2 14 9 7 4 7 2 9 1 52 1 100 0 16-1 11-2 9-5 15-10 7-1 6 1 15 10 8 4 9 2 13 1 33 0 23-2 17-3 28-10 11-1 12 2 24 8 12 3 13 2 16 1 52 1 35-1 14-2 20-8 8-1 7 1 21 8 16 3 35 1 104 0" stroke="#5ee22a" stroke-width="12.5"/><path d="M2265 2215l33-4 20-1 33 0 6-1 5-2 6-5 6-7 5-11 13-30 3-4 3-2 3 2 3 7 13 38 7 16 7 11 8 7 7 4 11 5 34 10 35 7 37 5 55 4 33 0 20 0 9-1 7-2 20-11 7-2 7 2 14 8 7 3 7 2 9 1 59 1 94 0 15-2 10-2 9-5 16-10 7-2 7 2 15 10 9 4 10 3 13 1 32 0 22-2 16-3 28-10 11-1 12 2 24 8 12 3 13 2 16 1 50 1 33-1 15-2 22-8 9-1 8 1 24 8 17 3 34 1 100 0" stroke="#1e1e1e" stroke-width="12.5"/></g><path d="M226.2 232H352.4M226.5 232v2.2M239.1 232v1.2M251.6 232v2.2M264.1 232v1.2M276.7 232v2.2M289.2 232v1.2M301.8 232v2.2M314.4 232v1.2M326.9 232v2.2M339.4 232v1.2M352.0 232v2.2" stroke="#000" stroke-width="0.6" fill="none"/>
<g font-weight="bold"><text x="226.8" y="237.6" font-size="4.3" text-anchor="middle">20</text><text x="251.9" y="237.6" font-size="4.3" text-anchor="middle">30</text><text x="277" y="237.6" font-size="4.3" text-anchor="middle">40</text><text x="302.1" y="237.6" font-size="4.3" text-anchor="middle">50</text><text x="327.2" y="237.6" font-size="4.3" text-anchor="middle">60</text><text x="352.3" y="237.6" font-size="4.3" text-anchor="middle">70</text><text x="290.6" y="243.8" font-size="4.8" text-anchor="middle">2θ (degree)</text><text x="219.9" y="193.9" font-size="4.9" text-anchor="middle" transform="rotate(-90 219.9 193.9)" dy="1.6">Intensity</text><text x="200.9" y="138.1" font-size="7.5">d)</text><text x="335.9" y="140.4" font-size="5.0">A-Anatase</text><text x="359.2" y="181.1" font-size="4.4">1000°C</text><text x="359.6" y="196.9" font-size="4.5">800°C</text><text x="359.6" y="211.7" font-size="4.5">600°C</text><text x="354.8" y="227.3" font-size="4.3">uncalcined</text><text x="240.5" y="141.8" font-size="4.1" text-anchor="middle">A</text><text x="270.6" y="161.6" font-size="4.1" text-anchor="middle">A</text><text x="267.1" y="170.7" font-size="4.1" text-anchor="middle">A</text><text x="275.1" y="170.7" font-size="4.1" text-anchor="middle">A</text><text x="297.3" y="165.7" font-size="4.1" text-anchor="middle">A</text><text x="310.3" y="167" font-size="4.1" text-anchor="middle">A</text><text x="315.9" y="167" font-size="4.1" text-anchor="middle">A</text><text x="334.2" y="170" font-size="4.1" text-anchor="middle">A</text><text x="348.8" y="172.5" font-size="4.1" text-anchor="middle">A</text></g>
</svg>
</body></html>
